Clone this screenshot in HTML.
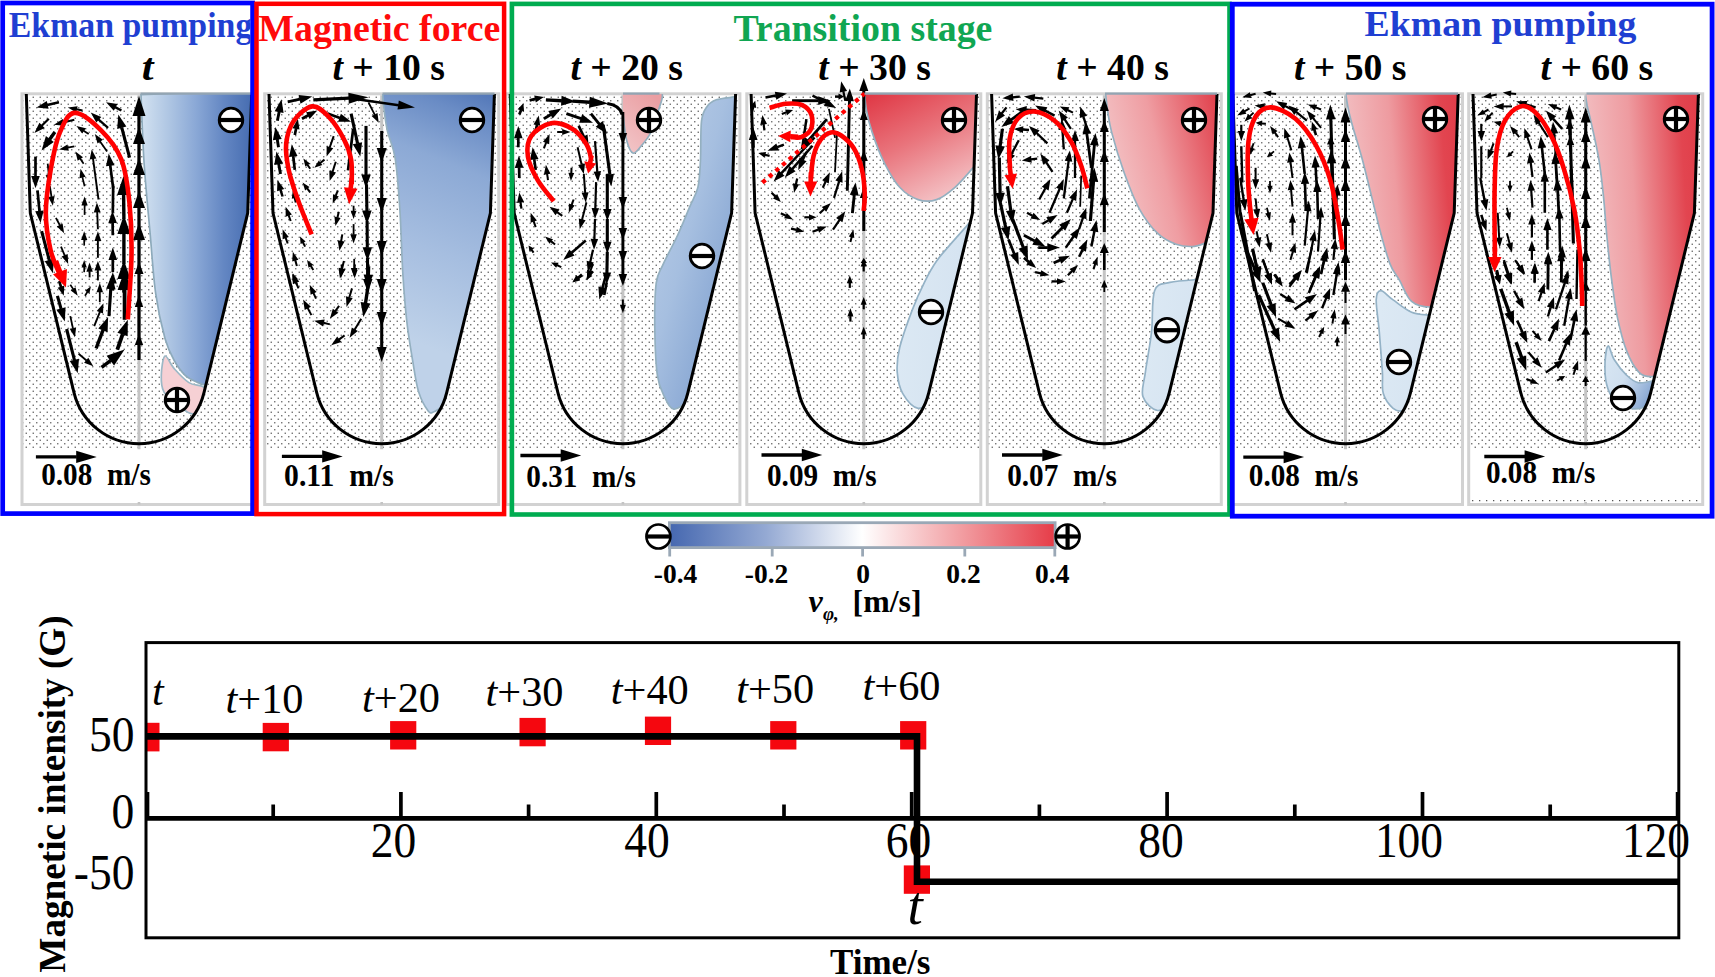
<!DOCTYPE html>
<html><head><meta charset="utf-8"><title>Flow patterns under magnetic field</title>
<style>
html,body{margin:0;padding:0;background:#fff;}
body{width:1715px;height:977px;overflow:hidden;font-family:"Liberation Serif",serif;}
svg{display:block}
text{font-family:"Liberation Serif",serif;}
.b{font-weight:bold}
.i{font-style:italic}
</style></head><body>
<svg width="1715" height="977" viewBox="0 0 1715 977">
<defs>
<pattern id="dots" width="7" height="7" patternUnits="userSpaceOnUse" x="1" y="2">
<rect x="0.2" y="0.2" width="1.15" height="1.15" fill="#2e2e2e"/><rect x="3.65" y="3.65" width="1.15" height="1.15" fill="#2e2e2e"/>
</pattern>
<linearGradient id="gb1" gradientUnits="userSpaceOnUse" x1="141" y1="0" x2="251" y2="0"><stop offset="0" stop-color="#d3e2f1"/><stop offset="0.25" stop-color="#afc6e3"/><stop offset="0.5" stop-color="#8aa8d6"/><stop offset="0.75" stop-color="#6487c3"/><stop offset="1" stop-color="#476db1"/></linearGradient>
<linearGradient id="gb2" gradientUnits="userSpaceOnUse" x1="398" y1="335" x2="496" y2="92"><stop offset="0" stop-color="#bfd2e9"/><stop offset="0.35" stop-color="#a6bee0"/><stop offset="0.68" stop-color="#8ca9d5"/><stop offset="0.88" stop-color="#6a8cc5"/><stop offset="1" stop-color="#4f74b6"/></linearGradient>
<linearGradient id="gb3" x1="0.1" y1="0" x2="0.9" y2="0.75"><stop offset="0" stop-color="#b9cde7"/><stop offset="0.45" stop-color="#a6bfe0"/><stop offset="1" stop-color="#7c9dce"/></linearGradient>
<linearGradient id="gr4" x1="0.15" y1="0" x2="0.7" y2="1"><stop offset="0" stop-color="#e03a47"/><stop offset="0.45" stop-color="#e9747c"/><stop offset="1" stop-color="#f5c9cc"/></linearGradient>
<linearGradient id="gr5" x1="0" y1="0.6" x2="1" y2="0.3"><stop offset="0" stop-color="#f4c9cb"/><stop offset="0.45" stop-color="#ef9da2"/><stop offset="1" stop-color="#e03c48"/></linearGradient>
<linearGradient id="gr6" x1="0" y1="0.5" x2="1" y2="0.35"><stop offset="0" stop-color="#f3c2c5"/><stop offset="0.4" stop-color="#ee9ba0"/><stop offset="0.8" stop-color="#e24550"/><stop offset="1" stop-color="#df3a46"/></linearGradient>
<linearGradient id="gr3" x1="0" y1="1" x2="0.6" y2="0"><stop offset="0" stop-color="#f3c9cb"/><stop offset="1" stop-color="#ea9ea2"/></linearGradient>
<linearGradient id="glb" x1="0" y1="0.4" x2="1" y2="0.6"><stop offset="0" stop-color="#dce9f4"/><stop offset="0.6" stop-color="#d6e4f1"/><stop offset="1" stop-color="#a9c3e0"/></linearGradient>
<linearGradient id="glb7" x1="0" y1="0" x2="1" y2="0.6"><stop offset="0" stop-color="#d9e7f3"/><stop offset="0.5" stop-color="#cfdfef"/><stop offset="1" stop-color="#86a6d2"/></linearGradient>
<linearGradient id="cbar" x1="0" y1="0" x2="1" y2="0"><stop offset="0" stop-color="#4668b0"/><stop offset="0.25" stop-color="#94a9d3"/><stop offset="0.5" stop-color="#ffffff"/><stop offset="0.75" stop-color="#f2a0a4"/><stop offset="1" stop-color="#e63c48"/></linearGradient>
<clipPath id="cr1"><path d="M139 94L251.7 94L247.7 213L204 392.6A66.9 66.9 0 0 1 139 443.5Z"/></clipPath><clipPath id="cr2"><path d="M381.7 94L494.4 94L490.4 213L446.7 392.6A66.9 66.9 0 0 1 381.7 443.5Z"/></clipPath><clipPath id="cr3"><path d="M622.9 94L735.6 94L731.6 213L687.9 392.6A66.9 66.9 0 0 1 622.9 443.5Z"/></clipPath><clipPath id="cr4"><path d="M863.8 94L976.5 94L972.5 213L928.8 392.6A66.9 66.9 0 0 1 863.8 443.5Z"/></clipPath><clipPath id="cr5"><path d="M1104.3 94L1217 94L1213 213L1169.3 392.6A66.9 66.9 0 0 1 1104.3 443.5Z"/></clipPath><clipPath id="cr6"><path d="M1345.5 94L1458.2 94L1454.2 213L1410.5 392.6A66.9 66.9 0 0 1 1345.5 443.5Z"/></clipPath><clipPath id="cr7"><path d="M1585.7 94L1698.4 94L1694.4 213L1650.7 392.6A66.9 66.9 0 0 1 1585.7 443.5Z"/></clipPath></defs>
<rect x="22" y="93.8" width="234" height="410.7" fill="#fff" stroke="#d2d2d2" stroke-width="3"/><rect x="23.5" y="95.5" width="231" height="354" fill="url(#dots)"/><path d="M139 95.3V449.2" stroke="#c4c4c4" stroke-width="3"/><path d="M139 502V504.5" stroke="#c4c4c4" stroke-width="2.6"/><rect x="264.7" y="93.8" width="234" height="410.7" fill="#fff" stroke="#d2d2d2" stroke-width="3"/><rect x="266.2" y="95.5" width="231" height="354" fill="url(#dots)"/><path d="M381.7 95.3V449.2" stroke="#c4c4c4" stroke-width="3"/><path d="M381.7 502V504.5" stroke="#c4c4c4" stroke-width="2.6"/><rect x="505.9" y="93.8" width="234" height="410.7" fill="#fff" stroke="#d2d2d2" stroke-width="3"/><rect x="507.4" y="95.5" width="231" height="354" fill="url(#dots)"/><path d="M622.9 95.3V449.2" stroke="#c4c4c4" stroke-width="3"/><path d="M622.9 502V504.5" stroke="#c4c4c4" stroke-width="2.6"/><rect x="746.8" y="93.8" width="234" height="410.7" fill="#fff" stroke="#d2d2d2" stroke-width="3"/><rect x="748.3" y="95.5" width="231" height="354" fill="url(#dots)"/><path d="M863.8 95.3V449.2" stroke="#c4c4c4" stroke-width="3"/><path d="M863.8 502V504.5" stroke="#c4c4c4" stroke-width="2.6"/><rect x="987.3" y="93.8" width="234" height="410.7" fill="#fff" stroke="#d2d2d2" stroke-width="3"/><rect x="988.8" y="95.5" width="231" height="354" fill="url(#dots)"/><path d="M1104.3 95.3V449.2" stroke="#c4c4c4" stroke-width="3"/><path d="M1104.3 502V504.5" stroke="#c4c4c4" stroke-width="2.6"/><rect x="1228.5" y="93.8" width="234" height="410.7" fill="#fff" stroke="#d2d2d2" stroke-width="3"/><rect x="1230" y="95.5" width="231" height="354" fill="url(#dots)"/><path d="M1345.5 95.3V449.2" stroke="#c4c4c4" stroke-width="3"/><path d="M1345.5 502V504.5" stroke="#c4c4c4" stroke-width="2.6"/><rect x="1468.7" y="93.8" width="234" height="410.7" fill="#fff" stroke="#d2d2d2" stroke-width="3"/><rect x="1470.2" y="95.5" width="231" height="354" fill="url(#dots)"/><path d="M1585.7 95.3V449.2" stroke="#c4c4c4" stroke-width="3"/><path d="M1585.7 502V504.5" stroke="#c4c4c4" stroke-width="2.6"/>
<path d="M1472 500.6H1698" stroke="#555" stroke-width="1.2" stroke-dasharray="1.3 5.7"/><path d="M165 356.1C162.8 357.2 161.5 369.3 161.3 375.3C161.1 381.2 161.1 386.9 163.9 391.8C166.6 396.7 172.8 401 177.9 404.7C183 408.4 188.3 415.1 194.4 413.9C200.6 412.7 213.2 401.8 214.7 397.3C216.2 392.9 208 389.5 203.7 387C199.4 384.6 193.8 385.7 188.9 382.6C184 379.5 178.2 373 174.2 368.6C170.2 364.2 167.1 355 165 356.1Z" fill="#f6d0d4" stroke="#9cb8c6" stroke-width="1.7" clip-path="url(#cr1)"/><path d="M141 94.6C141.5 105.8 142.5 138.2 144 161.7C145.5 185.1 148.3 213.2 150.3 235.3C152.2 257.4 153.3 277 155.8 294.2C158.2 311.4 161.9 327.4 165 338.4C168.1 349.5 170.8 354.4 174.2 360.5C177.6 366.7 181.3 371.6 185.2 375.3C189.2 378.9 194.1 380.8 198.1 382.6C202.1 384.5 207.3 385.7 209.2 386.3L264 380L264 90Z" fill="url(#gb1)" stroke="#8daabb" stroke-width="1.7" clip-path="url(#cr1)"/><path d="M26.3 94L30.3 213L74 392.6A66.9 66.9 0 0 0 204 392.6L247.7 213L251.7 94" fill="none" stroke="#000" stroke-width="3"/><path d="M139 360V106.2" stroke="#000" stroke-width="3.2"/><path d="M139 96L132.5 116L145.5 116Z" fill="#000"/><path d="M139 127L133 144L145 144Z" fill="#000"/><path d="M139 158L133 175L145 175Z" fill="#000"/><path d="M139 191L133 208L145 208Z" fill="#000"/><path d="M139 223L133 240L145 240Z" fill="#000"/><path d="M139 262L134.5 274L143.5 274Z" fill="#000"/><path d="M139 295L134.8 307L143.2 307Z" fill="#000"/><path d="M139 334L134.8 345L143.2 345Z" fill="#000"/><path d="M59 102.3L47.2 105" stroke="#000" stroke-width="2.5" fill="none"/><path d="M36.5 107.4L46.8 101L48.6 108.8Z" fill="#000"/><path d="M48.8 118.7L41.7 125.8" stroke="#000" stroke-width="2.2" fill="none"/><path d="M34.4 133L39.4 122.7L44.7 128.1Z" fill="#000"/><path d="M54.9 132L49.6 139.4" stroke="#000" stroke-width="3.4" fill="none"/><path d="M41.6 150.4L45.9 136.1L53.8 141.9Z" fill="#000"/><path d="M74.3 146.3L67.7 147.7" stroke="#000" stroke-width="1.8" fill="none"/><path d="M59 149.4L67.5 144.4L68.8 150.8Z" fill="#000"/><path d="M74.3 119.7L63.1 122.5" stroke="#000" stroke-width="2" fill="none"/><path d="M53.9 124.8L62.8 119L64.5 125.8Z" fill="#000"/><path d="M82.5 110.5L76.4 109.3" stroke="#000" stroke-width="2" fill="none"/><path d="M67.8 107.6L77.6 106.2L76.3 112.6Z" fill="#000"/><path d="M88.7 134L83.6 130.7" stroke="#000" stroke-width="1.8" fill="none"/><path d="M76.4 125.9L85.8 128.3L82.2 133.6Z" fill="#000"/><path d="M121.4 110.5L115.1 107.2" stroke="#000" stroke-width="2.5" fill="none"/><path d="M106.1 102.3L117.4 104.1L113.8 110.7Z" fill="#000"/><path d="M108.1 127.9L98.4 119.4" stroke="#000" stroke-width="2.2" fill="none"/><path d="M90.7 112.6L101.3 116.9L96.3 122.5Z" fill="#000"/><path d="M107.1 151.4L99.9 141.3" stroke="#000" stroke-width="1.8" fill="none"/><path d="M94.8 134L102.9 139.8L97.5 143.6Z" fill="#000"/><path d="M35.5 156.6L35.5 176.5" stroke="#000" stroke-width="2.7" fill="none"/><path d="M35.5 188.3L31.2 176L39.8 176Z" fill="#000"/><path d="M37.5 190.3L39.5 211.3" stroke="#000" stroke-width="2.7" fill="none"/><path d="M40.6 223.1L35.2 211.2L43.7 210.4Z" fill="#000"/><path d="M49.8 186.2L51.5 196.9" stroke="#000" stroke-width="1.8" fill="none"/><path d="M52.9 205.7L48.2 197L54.6 195.9Z" fill="#000"/><path d="M55.9 217.9L60 225.5" stroke="#000" stroke-width="1.8" fill="none"/><path d="M64.1 233.3L56.8 226.6L62.6 223.5Z" fill="#000"/><path d="M61 246.6L64.8 255.8" stroke="#000" stroke-width="1.8" fill="none"/><path d="M68.2 264L61.6 256.6L67.7 254.1Z" fill="#000"/><path d="M41.6 231.2L49.4 260.5" stroke="#000" stroke-width="3.1" fill="none"/><path d="M52.9 273.2L44.7 261.2L53.9 258.8Z" fill="#000"/><path d="M47.7 163.7L48.9 175.4" stroke="#000" stroke-width="1.8" fill="none"/><path d="M49.8 184.2L45.6 175.2L52.1 174.6Z" fill="#000"/><path d="M83.6 163.7L80.1 158.5" stroke="#000" stroke-width="1.7" fill="none"/><path d="M75.4 151.4L83 157.2L77.7 160.7Z" fill="#000"/><path d="M84.6 186.2L82.4 177.1" stroke="#000" stroke-width="1.7" fill="none"/><path d="M80.5 168.8L85.6 176.8L79.5 178.3Z" fill="#000"/><path d="M84.6 214.9L84.6 204.9" stroke="#000" stroke-width="1.7" fill="none"/><path d="M84.6 196.5L87.7 205.4L81.4 205.4Z" fill="#000"/><path d="M84.2 245.6L84.2 239.6" stroke="#000" stroke-width="1.7" fill="none"/><path d="M84.2 231.2L87.3 240.1L81.1 240.1Z" fill="#000"/><path d="M84.2 272.2L84.2 267" stroke="#000" stroke-width="1.7" fill="none"/><path d="M84.2 259.9L86.8 267.5L81.5 267.5Z" fill="#000"/><path d="M98.5 199.5L93 158.5" stroke="#000" stroke-width="1.9" fill="none"/><path d="M91.7 149.4L96.4 158.5L89.7 159.5Z" fill="#000"/><path d="M97.9 229.2L97.2 211.8" stroke="#000" stroke-width="1.9" fill="none"/><path d="M96.9 202.6L100.6 212.2L93.8 212.4Z" fill="#000"/><path d="M97.9 257.8L97.9 240.4" stroke="#000" stroke-width="1.9" fill="none"/><path d="M97.9 231.2L101.3 240.9L94.5 240.9Z" fill="#000"/><path d="M97.9 280.4L97.9 270.1" stroke="#000" stroke-width="1.9" fill="none"/><path d="M97.9 260.9L101.3 270.6L94.5 270.6Z" fill="#000"/><path d="M113.2 188.3L110.2 165.2" stroke="#000" stroke-width="2.7" fill="none"/><path d="M108.7 153.5L114.6 165.2L106 166.3Z" fill="#000"/><path d="M112.8 235.3L112.6 222.6" stroke="#000" stroke-width="2.7" fill="none"/><path d="M112.4 210.8L116.9 223L108.3 223.2Z" fill="#000"/><path d="M112.8 272.2L112.8 259.4" stroke="#000" stroke-width="2.7" fill="none"/><path d="M112.8 247.6L117.1 259.9L108.5 259.9Z" fill="#000"/><path d="M112.8 290.6L112.8 283.1" stroke="#000" stroke-width="2.7" fill="none"/><path d="M112.8 272.2L116.8 283.6L108.8 283.6Z" fill="#000"/><path d="M112.8 212.8L113.2 185.8" stroke="#000" stroke-width="2.7" fill="none"/><path d="M113.2 186.2L113.3 186.3L113.2 186.3Z" fill="#000"/><path d="M129.6 157.6L121.7 127.3" stroke="#000" stroke-width="3.1" fill="none"/><path d="M118.3 114.6L126.4 126.6L117.2 129Z" fill="#000"/><path d="M123.9 219L123.6 194.5" stroke="#000" stroke-width="3.4" fill="none"/><path d="M123.5 176L130.1 194.9L117.1 195.1Z" fill="#000"/><path d="M123.9 264L123.9 233.4" stroke="#000" stroke-width="3.4" fill="none"/><path d="M123.9 214.9L130.4 233.9L117.4 233.9Z" fill="#000"/><path d="M123.9 292.6L123.9 278.4" stroke="#000" stroke-width="3.4" fill="none"/><path d="M123.9 259.9L130.4 278.9L117.4 278.9Z" fill="#000"/><path d="M57.4 295.8L61.1 308.9" stroke="#000" stroke-width="3.1" fill="none"/><path d="M64.8 321.6L56.4 309.8L65.6 307.2Z" fill="#000"/><path d="M66.6 329L74.5 360.4" stroke="#000" stroke-width="3.1" fill="none"/><path d="M77.7 373.2L69.7 361.1L79 358.8Z" fill="#000"/><path d="M59.2 281.1L61.1 287.1" stroke="#000" stroke-width="2.7" fill="none"/><path d="M63.8 295.8L57.7 287.7L64.3 285.6Z" fill="#000"/><path d="M70.3 316.1L73 328.6" stroke="#000" stroke-width="1.8" fill="none"/><path d="M74.9 337.3L69.7 328.8L76.1 327.4Z" fill="#000"/><path d="M78.6 353.8L86.5 360.5" stroke="#000" stroke-width="1.8" fill="none"/><path d="M93.3 366.2L84.1 362.7L88.3 357.7Z" fill="#000"/><path d="M70.3 284.7L73.4 289.4" stroke="#000" stroke-width="1.7" fill="none"/><path d="M77.7 295.8L70.7 290.5L75.5 287.3Z" fill="#000"/><path d="M85 295.8L87.5 291.7" stroke="#000" stroke-width="1.7" fill="none"/><path d="M90.9 286.2L89.4 293.5L85.1 290.8Z" fill="#000"/><path d="M99.8 302.2L99.8 291.7" stroke="#000" stroke-width="1.8" fill="none"/><path d="M99.8 282.9L103 292.2L96.5 292.2Z" fill="#000"/><path d="M94.2 326.2L100 311.7" stroke="#000" stroke-width="1.9" fill="none"/><path d="M103.5 303.2L103 313.4L96.7 310.9Z" fill="#000"/><path d="M96.1 348.3L103.1 329.9" stroke="#000" stroke-width="3.4" fill="none"/><path d="M108.1 317L107.6 332.2L98.3 328.6Z" fill="#000"/><path d="M109 316.1L110.8 288.7" stroke="#000" stroke-width="3.1" fill="none"/><path d="M111.7 275.5L115.6 289.5L106.1 288.8Z" fill="#000"/><path d="M101.6 367.3L110.8 360.3" stroke="#000" stroke-width="3.4" fill="none"/><path d="M124.6 349.6L114.1 365.5L106.6 355.7Z" fill="#000"/><path d="M117.3 349.6L122.7 334.1" stroke="#000" stroke-width="3.8" fill="none"/><path d="M127.8 319.8L127.7 336.3L117.4 332.7Z" fill="#000"/><path d="M124.6 319.8L124.6 289.5" stroke="#000" stroke-width="3.8" fill="none"/><path d="M124.6 270L131.6 290L117.6 290Z" fill="#000"/><path d="M89.6 277.4L89.6 271.3" stroke="#000" stroke-width="1.9" fill="none"/><path d="M89.6 262.6L92.8 271.8L86.4 271.8Z" fill="#000"/><path d="M127.8 319.4C128.4 308.8 131.2 275.1 131.5 255.5C131.8 236 131 218.3 129.4 202.3C127.7 186.3 126.1 171.7 121.4 159.7C116.7 147.7 109 138.2 101.1 130.4C93.3 122.6 81.5 112.4 74.5 112.9C67.6 113.3 63.6 123.5 59.6 133.1C55.6 142.7 52.9 157 50.6 170.4C48.3 183.7 45.8 199.6 45.8 212.9C45.8 226.3 48.3 240 50.6 250.2C52.9 260.4 58.1 270.2 59.6 274.2" fill="none" stroke="#ff0000" stroke-width="4.6" stroke-linecap="butt"/><path d="M55.9 260.9L60.2 272" stroke="#ff0000" stroke-width="4.6" fill="none"/><path d="M66 287.5L53 274.2L67 268.9Z" fill="#ff0000"/><circle cx="231" cy="120" r="11.8" fill="#fff" stroke="#000" stroke-width="2.8"/><path d="M219.2 120H242.8" stroke="#000" stroke-width="4.2"/><circle cx="177" cy="400" r="11.8" fill="#fff" stroke="#000" stroke-width="2.8"/><path d="M165.2 400H188.8" stroke="#000" stroke-width="4.2"/><path d="M177 388.2V411.8" stroke="#000" stroke-width="4.2"/><path d="M382.5 92C382.7 94.2 382.7 98.6 383.5 105C384.3 111.4 385.4 121.8 387.3 130.6C389.2 139.4 393 144.9 395.1 157.9C397.2 170.9 398.5 189.1 399.8 208.5C401.1 227.9 401.7 255.8 402.9 274.6C404.1 293.4 405.2 307 406.8 321.3C408.4 335.6 410.7 348.6 412.6 360.3C414.6 372 415.9 383 418.5 391.4C421.1 399.8 425.6 407.5 428.2 410.9C430.8 414.3 431.2 412.7 434 411.7C436.8 410.7 443.2 406.1 445 405L506.7 400L506.7 90Z" fill="url(#gb2)" stroke="#94b0c0" stroke-width="1.7" clip-path="url(#cr2)"/><path d="M269 94L273 213L316.7 392.6A66.9 66.9 0 0 0 446.7 392.6L490.4 213L494.4 94" fill="none" stroke="#000" stroke-width="3"/><path d="M287.7 101.9L300 99.2" stroke="#000" stroke-width="2.9" fill="none"/><path d="M312.2 96.6L300.5 103.8L298.6 94.9Z" fill="#000"/><path d="M313.3 99.9L349 98.1" stroke="#000" stroke-width="3.1" fill="none"/><path d="M368.5 97.2L348.8 103.7L348.3 92.7Z" fill="#000"/><path d="M368.5 102.3L374.8 114.9" stroke="#000" stroke-width="1.8" fill="none"/><path d="M378.7 122.8L371.6 115.9L377.5 113Z" fill="#000"/><path d="M327.6 113.6L339.9 117.9" stroke="#000" stroke-width="2.7" fill="none"/><path d="M351.1 121.8L338.1 121.8L340.9 113.7Z" fill="#000"/><path d="M302 118.7L308.3 115.3" stroke="#000" stroke-width="2.9" fill="none"/><path d="M317.3 110.5L309.6 118.9L306.1 112.3Z" fill="#000"/><path d="M277.4 120.7L279.2 111.5" stroke="#000" stroke-width="2.9" fill="none"/><path d="M281.5 99.3L283.6 112.9L274.7 111.2Z" fill="#000"/><path d="M278.5 147.3L277.2 139.1" stroke="#000" stroke-width="2.9" fill="none"/><path d="M275.4 126.9L281.7 138.9L272.9 140.2Z" fill="#000"/><path d="M280.5 173.9L278.7 163.7" stroke="#000" stroke-width="2.9" fill="none"/><path d="M276.4 151.4L283.2 163.4L274.3 165Z" fill="#000"/><path d="M282.6 196.5L280.5 189.8" stroke="#000" stroke-width="2.5" fill="none"/><path d="M277.4 180.1L284.2 189.1L277.1 191.3Z" fill="#000"/><path d="M290.7 221L288.6 215.1" stroke="#000" stroke-width="2" fill="none"/><path d="M285.6 206.7L291.9 214.5L285.7 216.7Z" fill="#000"/><path d="M287.7 243.5L285.6 237.6" stroke="#000" stroke-width="2" fill="none"/><path d="M282.6 229.2L288.8 237L282.6 239.2Z" fill="#000"/><path d="M294.8 135.1L296.1 128.4" stroke="#000" stroke-width="2.7" fill="none"/><path d="M297.9 118.7L299.5 129.5L292.5 128.2Z" fill="#000"/><path d="M294.8 169.9L293.2 156" stroke="#000" stroke-width="2.7" fill="none"/><path d="M291.8 144.3L297.5 156L289 157Z" fill="#000"/><path d="M295.9 202.6L294.6 197.4" stroke="#000" stroke-width="2.2" fill="none"/><path d="M292.8 190.3L297.6 197.2L291.8 198.7Z" fill="#000"/><path d="M305.1 246.6L302.9 242.3" stroke="#000" stroke-width="2" fill="none"/><path d="M300 236.4L305.6 241.4L300.6 244Z" fill="#000"/><path d="M296.9 266L295.2 260.1" stroke="#000" stroke-width="2" fill="none"/><path d="M292.8 251.7L298.4 259.7L292.2 261.5Z" fill="#000"/><path d="M313.3 270.1L310.7 265.8" stroke="#000" stroke-width="2" fill="none"/><path d="M307.1 259.9L313.3 264.8L308.5 267.7Z" fill="#000"/><path d="M296.9 284.5L295.2 279.7" stroke="#000" stroke-width="2" fill="none"/><path d="M292.8 273.2L298 279.2L292.7 281.1Z" fill="#000"/><path d="M310.2 168.8L307.3 164.5" stroke="#000" stroke-width="2" fill="none"/><path d="M303.4 158.6L310 163.4L305.3 166.5Z" fill="#000"/><path d="M324.5 159.6L320.2 163" stroke="#000" stroke-width="2" fill="none"/><path d="M314.3 167.8L318.8 160.5L322.4 165Z" fill="#000"/><path d="M310.2 192.4L307 188.2" stroke="#000" stroke-width="2" fill="none"/><path d="M302.6 182.5L309.5 186.9L305.1 190.4Z" fill="#000"/><path d="M333.7 136.1L329.7 147.5" stroke="#000" stroke-width="2" fill="none"/><path d="M326.6 156.6L326.6 145.9L333.2 148.2Z" fill="#000"/><path d="M335.8 161.7L332.5 172" stroke="#000" stroke-width="2" fill="none"/><path d="M329.6 181.1L329.3 170.5L336 172.6Z" fill="#000"/><path d="M337.8 190.3L335.7 195.8" stroke="#000" stroke-width="2" fill="none"/><path d="M332.7 203.6L333 194.3L338.8 196.5Z" fill="#000"/><path d="M338.8 211.8L337.4 217.7" stroke="#000" stroke-width="2" fill="none"/><path d="M335.4 226.1L334.4 216.5L340.6 218Z" fill="#000"/><path d="M342.3 234.3L341.1 241.3" stroke="#000" stroke-width="2" fill="none"/><path d="M339.4 250.7L337.7 240.2L344.6 241.4Z" fill="#000"/><path d="M343.9 260.9L342 269" stroke="#000" stroke-width="2" fill="none"/><path d="M339.9 278.3L338.7 267.7L345.6 269.3Z" fill="#000"/><path d="M351.1 113.6L357.6 143.7" stroke="#000" stroke-width="3.1" fill="none"/><path d="M360.3 156.6L352.8 144.2L362.1 142.2Z" fill="#000"/><path d="M353.2 128.9L348 170.3" stroke="#000" stroke-width="2.7" fill="none"/><path d="M348 169.9L348 169.7L348.1 169.8Z" fill="#000"/><path d="M353.6 205.7L353.6 211.2" stroke="#000" stroke-width="1.8" fill="none"/><path d="M353.6 219L350.7 210.7L356.5 210.7Z" fill="#000"/><path d="M353.6 224.1L353.6 234.7" stroke="#000" stroke-width="1.8" fill="none"/><path d="M353.6 243.5L350.3 234.2L356.8 234.2Z" fill="#000"/><path d="M354.2 258.9L354.2 268.5" stroke="#000" stroke-width="1.8" fill="none"/><path d="M354.2 277.3L350.9 268L357.5 268Z" fill="#000"/><path d="M366 125.9L366 175.1" stroke="#000" stroke-width="3.1" fill="none"/><path d="M366 188.3L361.3 174.6L370.8 174.6Z" fill="#000"/><path d="M366.5 184.2L366.9 210.9" stroke="#000" stroke-width="3.1" fill="none"/><path d="M367.1 224.1L362.1 210.5L371.6 210.4Z" fill="#000"/><path d="M367.1 221L367.3 247.8" stroke="#000" stroke-width="3.1" fill="none"/><path d="M367.5 260.9L362.6 247.3L372.1 247.2Z" fill="#000"/><path d="M367.5 257.8L367.7 279.5" stroke="#000" stroke-width="3.1" fill="none"/><path d="M367.9 292.6L363 279L372.5 278.9Z" fill="#000"/><path d="M350.1 98.2L398.7 105.2" stroke="#000" stroke-width="2.6" fill="none"/><path d="M415 107.5L397.5 109.6L398.8 100.6Z" fill="#000"/><path d="M298.5 288.4L295.9 282.4" stroke="#000" stroke-width="2" fill="none"/><path d="M292.1 273.7L299.3 281.4L292.9 284.2Z" fill="#000"/><path d="M316 298.6L313.4 292.9" stroke="#000" stroke-width="2" fill="none"/><path d="M309.6 284.7L316.6 291.9L310.6 294.7Z" fill="#000"/><path d="M311.4 315.1L307.6 307.9" stroke="#000" stroke-width="2" fill="none"/><path d="M303.1 299.5L311 306.7L304.7 310Z" fill="#000"/><path d="M329.9 324.4L323.4 322.8" stroke="#000" stroke-width="2" fill="none"/><path d="M314.2 320.7L324.7 319.6L323.1 326.4Z" fill="#000"/><path d="M339.1 305.9L335.3 311.2" stroke="#000" stroke-width="2" fill="none"/><path d="M329.9 318.8L332.8 308.8L338.4 312.8Z" fill="#000"/><path d="M352 288.4L349.2 297.7" stroke="#000" stroke-width="2" fill="none"/><path d="M346.5 306.9L346 296.2L352.7 298.2Z" fill="#000"/><path d="M341.8 264.5L341.5 270.2" stroke="#000" stroke-width="2" fill="none"/><path d="M340.9 278.3L338.5 269.5L344.5 269.9Z" fill="#000"/><path d="M354.7 264.5L354.7 270.2" stroke="#000" stroke-width="2" fill="none"/><path d="M354.7 278.3L351.7 269.7L357.7 269.7Z" fill="#000"/><path d="M368.6 266.3L368.3 275.2" stroke="#000" stroke-width="3.4" fill="none"/><path d="M368 288.4L363.6 274.6L373.1 274.8Z" fill="#000"/><path d="M368 286.6L365.5 303.3" stroke="#000" stroke-width="3.4" fill="none"/><path d="M363.4 317L360.6 302.1L370.5 303.6Z" fill="#000"/><path d="M361.2 318.8L354.6 329.7" stroke="#000" stroke-width="2" fill="none"/><path d="M349.6 337.8L351.8 327.4L357.8 331.1Z" fill="#000"/><path d="M344.6 335.4L338.9 339.6" stroke="#000" stroke-width="2" fill="none"/><path d="M331.2 345.2L337.2 336.4L341.4 342.1Z" fill="#000"/><path d="M381.7 131V353" stroke="#000" stroke-width="3"/><path d="M381.7 163L376.7 148L386.7 148Z" fill="#000"/><path d="M381.7 213L376.7 198L386.7 198Z" fill="#000"/><path d="M381.7 256L376.7 241L386.7 241Z" fill="#000"/><path d="M381.7 294L376.7 279L386.7 279Z" fill="#000"/><path d="M381.7 327L376.7 312L386.7 312Z" fill="#000"/><path d="M381.7 362L376.7 347L386.7 347Z" fill="#000"/><path d="M311.6 234.3C309.5 229 302.7 213.3 298.9 202.6C295.1 191.9 290.8 179.7 288.7 169.9C286.6 160 285.4 151.4 286.2 143.3C287.1 135.1 289.5 126.9 293.8 120.7C298.1 114.6 306.4 107.1 312.2 106.4C318 105.7 323.3 111.2 328.6 116.6C333.9 122.1 340.2 132 343.9 139.2C347.7 146.3 349.8 152.1 351.1 159.6C352.4 167.1 351.6 180.1 351.7 184.2" fill="none" stroke="#ff0000" stroke-width="4.6" stroke-linecap="butt"/><path d="M351.7 178L350.7 188.5" stroke="#ff0000" stroke-width="4.6" fill="none"/><path d="M349.1 204.2L343.9 187.3L357.5 188.7Z" fill="#ff0000"/><circle cx="472" cy="120" r="11.8" fill="#fff" stroke="#000" stroke-width="2.8"/><path d="M460.2 120H483.8" stroke="#000" stroke-width="4.2"/><path d="M622.1 90.5C628.2 86 654.2 86.5 660.1 90.5C666 94.4 658.8 107.3 657.2 114.4C655.6 121.5 653 127.9 650.5 133C648 138.1 644.9 141.6 642 145C639.1 148.4 635.8 153.9 633.2 153.2C630.7 152.6 628.5 147 626.8 141C625.2 135 624.2 125.5 623.4 117.1C622.6 108.6 615.9 94.9 622.1 90.5Z" fill="url(#gr3)" stroke="#94b0c0" stroke-width="1.7" clip-path="url(#cr3)"/><path d="M732.1 97.2C729.5 97.6 720.4 98.3 716.3 99.8C712.1 101.3 709.5 102.9 707.1 106.4C704.6 110 702.6 111.9 701.5 121.1C700.4 130.4 701.1 150.6 700.4 161.7C699.8 172.7 699.6 179.9 697.9 187.4C696.1 194.9 693.1 198.6 689.8 206.6C686.4 214.6 682.1 225.6 677.6 235.3C673.1 245 666.4 256.8 662.9 264.8C659.3 272.7 657.6 272.7 656.2 283.2C654.9 293.6 654.6 312 654.8 327.4C655 342.7 655.7 363.6 657.4 375.3C659 386.9 662 391.7 664.7 397.3C667.5 403 669.9 408.5 673.9 409.1C677.9 409.7 686.2 402.4 688.7 401L747.9 400L747.9 95Z" fill="url(#gb3)" stroke="#94b0c0" stroke-width="1.7" clip-path="url(#cr3)"/><path d="M510.2 94L514.2 213L557.9 392.6A66.9 66.9 0 0 0 687.9 392.6L731.6 213L735.6 94" fill="none" stroke="#000" stroke-width="3"/><path d="M529.6 100.3L535.5 98.9" stroke="#000" stroke-width="2.9" fill="none"/><path d="M543.9 97L535.8 102.6L534.2 95.5Z" fill="#000"/><path d="M545.9 99.9L561.8 100.7" stroke="#000" stroke-width="3.4" fill="none"/><path d="M575.6 101.5L561 105.7L561.6 95.7Z" fill="#000"/><path d="M572.5 101.1L589.9 102.3" stroke="#000" stroke-width="3.4" fill="none"/><path d="M608.3 103.6L589 107.7L589.8 96.8Z" fill="#000"/><path d="M519.3 114.6L521.1 109.9" stroke="#000" stroke-width="2.7" fill="none"/><path d="M523.4 103.3L524.1 111.5L517.6 109.2Z" fill="#000"/><path d="M518.3 147.3L518.3 137.7" stroke="#000" stroke-width="2.7" fill="none"/><path d="M518.3 125.9L522.6 138.2L514 138.2Z" fill="#000"/><path d="M519.3 178L519.1 167.3" stroke="#000" stroke-width="2.7" fill="none"/><path d="M518.9 155.5L523.4 167.8L514.8 167.9Z" fill="#000"/><path d="M521.4 208.7L520.5 202" stroke="#000" stroke-width="2.2" fill="none"/><path d="M519.3 192.4L524.1 202.1L517 203Z" fill="#000"/><path d="M535.7 227.2L533.6 221.2" stroke="#000" stroke-width="2" fill="none"/><path d="M530.6 212.8L536.9 220.6L530.6 222.8Z" fill="#000"/><path d="M533.6 252.7L531.4 249.6" stroke="#000" stroke-width="2" fill="none"/><path d="M528.5 245.6L534 248.4L529.4 251.6Z" fill="#000"/><path d="M535.7 131L537 124.7" stroke="#000" stroke-width="2.7" fill="none"/><path d="M538.8 115.6L540.2 125.8L533.5 124.5Z" fill="#000"/><path d="M543.9 118.7L550.9 114.6" stroke="#000" stroke-width="2.9" fill="none"/><path d="M561.3 108.5L552.7 118.6L548.3 111Z" fill="#000"/><path d="M566.4 113.6L581.2 118.7" stroke="#000" stroke-width="2.9" fill="none"/><path d="M593 122.8L579.2 122.8L582.2 114.3Z" fill="#000"/><path d="M590.9 113.6L599.5 124.3" stroke="#000" stroke-width="2.9" fill="none"/><path d="M607.3 134L595.7 126.7L602.7 121.1Z" fill="#000"/><path d="M557.2 132L562.7 132" stroke="#000" stroke-width="2" fill="none"/><path d="M570.5 132L562.2 134.9L562.2 129.1Z" fill="#000"/><path d="M543.9 148.4L546.2 142.5" stroke="#000" stroke-width="2" fill="none"/><path d="M549.6 134L549.2 144.2L543 141.7Z" fill="#000"/><path d="M535.7 169.9L534.2 159.1" stroke="#000" stroke-width="2.7" fill="none"/><path d="M532.6 147.3L538.5 159L530 160.1Z" fill="#000"/><path d="M548 180.1L547.1 173.8" stroke="#000" stroke-width="2" fill="none"/><path d="M545.9 164.7L550.5 173.8L543.9 174.7Z" fill="#000"/><path d="M571.5 167.8L571.3 173.4" stroke="#000" stroke-width="2" fill="none"/><path d="M570.9 181.1L568.4 172.7L574.2 173Z" fill="#000"/><path d="M577.6 147.3L581.6 164.6" stroke="#000" stroke-width="2" fill="none"/><path d="M583.8 173.9L578.1 164.9L585 163.4Z" fill="#000"/><path d="M578.7 125.9L583.9 136.8" stroke="#000" stroke-width="2.7" fill="none"/><path d="M588.9 147.3L579.8 138.2L587.5 134.5Z" fill="#000"/><path d="M583.8 173.9L585.2 193.1" stroke="#000" stroke-width="2" fill="none"/><path d="M585.8 202.6L581.6 192.8L588.6 192.3Z" fill="#000"/><path d="M586.4 202.6L582 219.9" stroke="#000" stroke-width="2" fill="none"/><path d="M579.7 229.2L578.8 218.6L585.6 220.3Z" fill="#000"/><path d="M573.6 199.5L571.6 205.1" stroke="#000" stroke-width="2" fill="none"/><path d="M568.8 212.8L568.9 203.6L574.7 205.6Z" fill="#000"/><path d="M562.3 215.9L557.1 212.1" stroke="#000" stroke-width="2" fill="none"/><path d="M549.6 206.7L559.5 209.6L555.5 215.2Z" fill="#000"/><path d="M555.1 244.5L550.9 241.1" stroke="#000" stroke-width="2" fill="none"/><path d="M544.9 236.4L553 239.2L549.5 243.7Z" fill="#000"/><path d="M561.3 267.1L556.9 265.1" stroke="#000" stroke-width="2" fill="none"/><path d="M551 262.4L558.6 262.7L556.2 267.8Z" fill="#000"/><path d="M585.8 240.5L571.6 252.7" stroke="#000" stroke-width="2.5" fill="none"/><path d="M563.3 259.9L569.4 249.4L574.6 255.4Z" fill="#000"/><path d="M581.7 274.2L577.9 277.5" stroke="#000" stroke-width="2" fill="none"/><path d="M572.5 282L576.4 275L580.1 279.3Z" fill="#000"/><path d="M595 141.2L597.3 171.9" stroke="#000" stroke-width="2.2" fill="none"/><path d="M598.1 182.1L593.6 171.7L601.1 171.1Z" fill="#000"/><path d="M596.1 182.1L595.3 208.7" stroke="#000" stroke-width="2.2" fill="none"/><path d="M595 219L591.6 208.1L599.1 208.3Z" fill="#000"/><path d="M595 219L594.4 239.4" stroke="#000" stroke-width="2.2" fill="none"/><path d="M594 249.7L590.6 238.8L598.1 239Z" fill="#000"/><path d="M593 249.7L590.2 262.2" stroke="#000" stroke-width="2.2" fill="none"/><path d="M587.9 272.2L586.6 260.8L593.9 262.5Z" fill="#000"/><path d="M593 264L590.2 271.4" stroke="#000" stroke-width="2" fill="none"/><path d="M586.9 280.4L587.1 269.7L593.7 272.2Z" fill="#000"/><path d="M603.2 124.8L609.9 174.8" stroke="#000" stroke-width="3.1" fill="none"/><path d="M611.4 186.2L605.6 174.9L614 173.8Z" fill="#000"/><path d="M607.3 173.9L607.3 209.5" stroke="#000" stroke-width="3.1" fill="none"/><path d="M607.3 221L603.1 209L611.6 209Z" fill="#000"/><path d="M607.3 219L607.3 242.3" stroke="#000" stroke-width="3.1" fill="none"/><path d="M607.3 253.8L603.1 241.8L611.6 241.8Z" fill="#000"/><path d="M607.3 251.7L606.9 273" stroke="#000" stroke-width="3.1" fill="none"/><path d="M606.7 284.5L602.7 272.4L611.2 272.5Z" fill="#000"/><path d="M606.7 282.4L604.2 295.1" stroke="#000" stroke-width="2.7" fill="none"/><path d="M604.2 294.7L604.2 294.6L604.3 294.6Z" fill="#000"/><path d="M607.3 103.6Q620.1 105.6 622.1 114.6" fill="none" stroke="#000" stroke-width="3"/><path d="M582.4 275.5L578.1 278.5" stroke="#000" stroke-width="1.8" fill="none"/><path d="M572.3 282.5L577 276L580.1 280.4Z" fill="#000"/><path d="M592.5 270.9L589.8 274.8" stroke="#000" stroke-width="2" fill="none"/><path d="M586.1 280.1L587.8 272.8L592.4 276Z" fill="#000"/><path d="M606.4 273.7L602.4 288.2" stroke="#000" stroke-width="2.7" fill="none"/><path d="M599.3 299.5L598.4 286.6L606.7 288.8Z" fill="#000"/><path d="M622.9 299.5L622.9 305.2" stroke="#000" stroke-width="1.9" fill="none"/><path d="M622.9 313.3L619.9 304.7L625.9 304.7Z" fill="#000"/><path d="M622.9 112V278.8" stroke="#000" stroke-width="2.8"/><path d="M622.9 145L618.6 133L627.1 133Z" fill="#000"/><path d="M622.9 209L618.6 197L627.1 197Z" fill="#000"/><path d="M622.9 240L618.6 228L627.1 228Z" fill="#000"/><path d="M622.9 263L618.6 251L627.1 251Z" fill="#000"/><path d="M622.9 286L618.6 274L627.1 274Z" fill="#000"/><path d="M553.7 201.2C551 197.7 542 187.5 537.7 180.1C533.4 172.7 529 163.9 527.9 156.6C526.8 149.2 527.3 141.6 531.2 136.1C535 130.5 544.2 124.4 551 123.2C557.9 122 566.6 125.4 572.5 128.9C578.4 132.4 583.4 139.5 586.4 144.3C589.5 149.1 590.2 155.4 590.9 157.6" fill="none" stroke="#ff0000" stroke-width="4.6" stroke-linecap="butt"/><path d="M591.6 155.5L590.1 162.9" stroke="#ff0000" stroke-width="4.6" fill="none"/><path d="M588.1 173.5L584.3 161.2L596.2 163.5Z" fill="#ff0000"/><circle cx="649" cy="120" r="11.8" fill="#fff" stroke="#000" stroke-width="2.8"/><path d="M637.2 120H660.8" stroke="#000" stroke-width="4.2"/><path d="M649 108.2V131.8" stroke="#000" stroke-width="4.2"/><circle cx="702" cy="256" r="11.8" fill="#fff" stroke="#000" stroke-width="2.8"/><path d="M690.2 256H713.8" stroke="#000" stroke-width="4.2"/><path d="M864.4 92.1C864.7 95.2 865.3 103.9 866.5 110.6C867.8 117.2 869.1 123.4 872.1 132.1C875 140.8 879.7 153.6 884.3 162.8C889 172 894.1 181.2 899.7 187.3C905.3 193.5 912 197.6 918.1 199.6C924.3 201.7 930.4 201.7 936.6 199.6C942.7 197.6 948.8 192.7 955 187.3C961.1 182 970.3 170.7 973.4 167.4L988.8 160L988.8 90Z" fill="url(#gr4)" stroke="#94b0c0" stroke-width="1.7" clip-path="url(#cr4)"/><path d="M968.8 223.6C966 226.8 957.3 236.4 951.9 242.6C946.5 248.9 941.2 254.4 936.6 261.1C932 267.7 928.4 274.3 924.3 282.6C920.2 290.8 916.1 299.8 912 310.6C907.9 321.5 902.2 337.3 899.7 347.5C897.2 357.7 896.7 364.4 897.2 372.1C897.8 379.7 899.3 387.5 902.8 393.6C906.3 399.6 912.5 407.3 918.1 408.3C923.8 409.3 933.5 401.1 936.6 399.7L988.8 300Z" fill="url(#glb)" stroke="#94b2c6" stroke-width="1.7" clip-path="url(#cr4)"/><path d="M751.1 94L755.1 213L798.8 392.6A66.9 66.9 0 0 0 928.8 392.6L972.5 213L976.5 94" fill="none" stroke="#000" stroke-width="3"/><path d="M847.3 190.7L849.5 100.7" stroke="#000" stroke-width="2.9" fill="none"/><path d="M849.8 88.4L853.9 101.3L845 101.1Z" fill="#000"/><path d="M845.3 100.7L843.3 91.3" stroke="#000" stroke-width="2.2" fill="none"/><path d="M841.2 81.3L847.1 91L839.7 92.6Z" fill="#000"/><path d="M852.4 213.2L854.3 194.7" stroke="#000" stroke-width="2.9" fill="none"/><path d="M855.5 182.6L858.7 195.7L849.8 194.8Z" fill="#000"/><path d="M850.4 241.9L851.7 236.7" stroke="#000" stroke-width="2" fill="none"/><path d="M853.5 229.6L854.3 237.9L848.8 236.6Z" fill="#000"/><path d="M765.5 97.6L776 95.6" stroke="#000" stroke-width="2.5" fill="none"/><path d="M787 93.5L776.3 99.7L774.8 91.7Z" fill="#000"/><path d="M792.1 100.7L818.7 100.7" stroke="#000" stroke-width="2.9" fill="none"/><path d="M830.9 100.7L818.2 105.1L818.2 96.2Z" fill="#000"/><path d="M812.5 95.6L826.2 102.7" stroke="#000" stroke-width="2.5" fill="none"/><path d="M836.1 107.9L823.9 106.1L827.7 98.9Z" fill="#000"/><path d="M764.4 130.4L763.6 124" stroke="#000" stroke-width="2.2" fill="none"/><path d="M762.4 115L767 124.1L760.3 125Z" fill="#000"/><path d="M753.2 147.8L753.2 139.5" stroke="#000" stroke-width="3" fill="none"/><path d="M753.2 127.3L757.6 140L748.8 140Z" fill="#000"/><path d="M752.2 110.9L753.5 106.6" stroke="#000" stroke-width="2.2" fill="none"/><path d="M755.2 100.7L756.2 107.9L750.4 106.2Z" fill="#000"/><path d="M781.8 114L786.6 112.3" stroke="#000" stroke-width="2.2" fill="none"/><path d="M793.1 109.9L787.1 115.3L785.1 109.6Z" fill="#000"/><path d="M783.9 144.7L777.2 147.2" stroke="#000" stroke-width="2.5" fill="none"/><path d="M767.5 150.8L776.3 143.5L779 150.6Z" fill="#000"/><path d="M769.6 155.9L764.8 154.7" stroke="#000" stroke-width="2.2" fill="none"/><path d="M758.3 152.9L766.1 151.9L764.5 157.7Z" fill="#000"/><path d="M826.9 119.1L808.3 140.6" stroke="#000" stroke-width="2.9" fill="none"/><path d="M800.3 149.8L805.2 137.3L812 143.1Z" fill="#000"/><path d="M814.6 137.5L781.2 173.4" stroke="#000" stroke-width="2.5" fill="none"/><path d="M773.6 181.5L778.6 170.3L784.5 175.8Z" fill="#000"/><path d="M812.5 145.7L792.2 169.1" stroke="#000" stroke-width="2.5" fill="none"/><path d="M784.9 177.4L789.5 166L795.6 171.3Z" fill="#000"/><path d="M806.4 151.9L802.7 160.1" stroke="#000" stroke-width="2.5" fill="none"/><path d="M798.2 170.3L799.2 158L806.6 161.3Z" fill="#000"/><path d="M797.2 178.5L795.9 184.4" stroke="#000" stroke-width="2.2" fill="none"/><path d="M794.1 192.8L792.9 183.2L799.1 184.6Z" fill="#000"/><path d="M771.6 192.8L775.5 196.6" stroke="#000" stroke-width="2.2" fill="none"/><path d="M780.8 202L773 198.4L777.2 194.1Z" fill="#000"/><path d="M780.8 213.2L785.9 215.8" stroke="#000" stroke-width="2.2" fill="none"/><path d="M793.1 219.4L784.1 218.3L786.8 212.9Z" fill="#000"/><path d="M804.3 217.3L809.5 217.3" stroke="#000" stroke-width="2.2" fill="none"/><path d="M816.6 217.3L809 220.4L809 214.3Z" fill="#000"/><path d="M819.7 213.2L824.3 209" stroke="#000" stroke-width="2.2" fill="none"/><path d="M830.9 203L826.2 211.8L821.8 206.9Z" fill="#000"/><path d="M791 228.6L796.6 229.9" stroke="#000" stroke-width="2.2" fill="none"/><path d="M804.3 231.7L795.4 232.7L796.8 226.8Z" fill="#000"/><path d="M812.5 231.7L818.4 229.6" stroke="#000" stroke-width="2.2" fill="none"/><path d="M826.9 226.5L819.1 232.8L816.9 226.6Z" fill="#000"/><path d="M833 229.6L839.6 219.8" stroke="#000" stroke-width="2.2" fill="none"/><path d="M845.3 211.2L842.4 222.3L836.1 218.1Z" fill="#000"/><path d="M822.8 187.7L825.7 181.4" stroke="#000" stroke-width="2.2" fill="none"/><path d="M829.9 172.3L828.8 183.4L822.2 180.3Z" fill="#000"/><path d="M834 197.9L839.2 181.1" stroke="#000" stroke-width="2.2" fill="none"/><path d="M842.2 171.3L842.6 182.7L835.4 180.5Z" fill="#000"/><path d="M835 172.3L837.1 131" stroke="#000" stroke-width="1.8" fill="none"/><path d="M837.1 131.4L837.1 131.5L837 131.5Z" fill="#000"/><path d="M828.9 108.9L835.1 137.9" stroke="#000" stroke-width="1.8" fill="none"/><path d="M835 137.5L835 137.4L835.1 137.4Z" fill="#000"/><path d="M806.4 119.1L802.2 148.2" stroke="#000" stroke-width="2.5" fill="none"/><path d="M802.3 147.8L802.3 147.7L802.4 147.7Z" fill="#000"/><path d="M835 96.6L839 96.6" stroke="#000" stroke-width="2.5" fill="none"/><path d="M844.2 96.6L838.5 99.8L838.5 93.4Z" fill="#000"/><path d="M863.7 271.5L863.7 265.9" stroke="#000" stroke-width="2.2" fill="none"/><path d="M863.7 258.2L866.7 266.4L860.7 266.4Z" fill="#000"/><path d="M863.7 309.3L863.7 304.2" stroke="#000" stroke-width="2.2" fill="none"/><path d="M863.7 297.1L866.7 304.7L860.7 304.7Z" fill="#000"/><path d="M863.7 339L863.7 333.9" stroke="#000" stroke-width="2.2" fill="none"/><path d="M863.7 326.7L866.7 334.4L860.7 334.4Z" fill="#000"/><path d="M849.8 287.9L849.8 282.7" stroke="#000" stroke-width="2.2" fill="none"/><path d="M849.8 275.6L852.8 283.2L846.8 283.2Z" fill="#000"/><path d="M850.4 321.6L850.4 316.1" stroke="#000" stroke-width="2.2" fill="none"/><path d="M850.4 308.3L853.4 316.6L847.4 316.6Z" fill="#000"/><path d="M863.8 231V85.2" stroke="#000" stroke-width="3"/><path d="M863.8 78L859.3 91L868.3 91Z" fill="#000"/><path d="M863.8 109L859.8 120L867.8 120Z" fill="#000"/><path d="M863.8 150L859.8 161L867.8 161Z" fill="#000"/><path d="M863.8 187L859.8 198L867.8 198Z" fill="#000"/><path d="M863.8 266L863.8 262.5" stroke="#000" stroke-width="1.8" fill="none"/><path d="M863.8 258L867 263L860.6 263Z" fill="#000"/><path d="M762.4 182.6L864.7 93.5" stroke="#ff0000" stroke-width="4.2" stroke-dasharray="4.2 4.6" fill="none"/><path d="M769.6 107.9C772.3 107.2 780.5 104.2 785.9 103.8C791.4 103.3 798 103.3 802.3 105.2C806.6 107.1 810.1 111 811.5 115C812.9 119 812.6 125.7 810.9 129.3C809.2 133 804.6 135.8 801.3 137.1C798 138.4 792.7 137.1 791 137.1" fill="none" stroke="#ff0000" stroke-width="4.6" stroke-linecap="butt"/><path d="M798.2 136.7L790.1 136.4" stroke="#ff0000" stroke-width="4.6" fill="none"/><path d="M778.2 135.9L790.8 130.6L790.3 142.2Z" fill="#ff0000"/><path d="M863.7 210.8C863.9 207.8 865.1 199.9 864.7 192.8C864.4 185.7 863.5 175.7 861.6 168.2C859.8 160.7 856.9 153.2 853.5 147.8C850 142.3 844.9 138 841.2 135.5C837.4 132.9 834.4 131.7 830.9 132.4C827.5 133.1 823.6 135.7 820.7 139.6C817.8 143.5 815.2 149.5 813.6 155.9C811.9 162.4 811.3 174.7 810.9 178.5" fill="none" stroke="#ff0000" stroke-width="4.6" stroke-linecap="butt"/><path d="M810.9 172.3L810.7 182" stroke="#ff0000" stroke-width="4.6" fill="none"/><path d="M810.5 196.5L804.1 181.4L817.3 181.6Z" fill="#ff0000"/><circle cx="954" cy="120" r="11.8" fill="#fff" stroke="#000" stroke-width="2.8"/><path d="M942.2 120H965.8" stroke="#000" stroke-width="4.2"/><path d="M954 108.2V131.8" stroke="#000" stroke-width="4.2"/><circle cx="931" cy="312" r="11.8" fill="#fff" stroke="#000" stroke-width="2.8"/><path d="M919.2 312H942.8" stroke="#000" stroke-width="4.2"/><path d="M1105.5 92.1C1105.8 95.2 1106.6 103.9 1107.6 110.6C1108.7 117.2 1108.9 121.8 1111.6 132.1C1114.3 142.3 1119.3 159.2 1123.9 172C1128.5 184.8 1133.6 198.6 1139.3 208.8C1144.9 219.1 1151.5 227.5 1157.7 233.4C1163.8 239.3 1170 242 1176.1 244.2C1182.3 246.3 1188.9 246.8 1194.5 246.3C1200.2 245.8 1207.3 242 1209.9 241.1L1229.3 200L1229.3 90Z" fill="url(#gr5)" stroke="#94b0c0" stroke-width="1.7" clip-path="url(#cr5)"/><path d="M1200.7 279.3C1195.6 279.8 1177.7 280.5 1170 282.4C1162.3 284.3 1157.7 282.4 1154.6 290.7C1151.5 299 1153.1 318.6 1151.5 332.1C1150 345.7 1146.8 361.3 1145.4 372.1C1144 382.8 1140.9 390.2 1142.9 396.6C1145 403 1152.2 409.9 1157.7 410.5C1163.2 411 1173 401.5 1176.1 399.7L1229.3 330Z" fill="url(#glb)" stroke="#94b2c6" stroke-width="1.7" clip-path="url(#cr5)"/><path d="M991.6 94L995.6 213L1039.3 392.6A66.9 66.9 0 0 0 1169.3 392.6L1213 213L1217 94" fill="none" stroke="#000" stroke-width="3"/><path d="M1019.8 96.6L1012.7 97.3" stroke="#000" stroke-width="2.3" fill="none"/><path d="M1002.4 98.2L1012.8 93.4L1013.5 101Z" fill="#000"/><path d="M1043.3 98.6L1034.3 97.7" stroke="#000" stroke-width="2.3" fill="none"/><path d="M1023.9 96.6L1035.2 93.9L1034.4 101.6Z" fill="#000"/><path d="M1073 112.6L1067.5 110" stroke="#000" stroke-width="2.1" fill="none"/><path d="M1059.7 106.4L1069.3 107.3L1066.6 113.1Z" fill="#000"/><path d="M1054.6 115.6L1045 110.6" stroke="#000" stroke-width="2.5" fill="none"/><path d="M1035.1 105.4L1047.4 107.2L1043.6 114.5Z" fill="#000"/><path d="M1036.2 110.1L1026.1 109.7" stroke="#000" stroke-width="2.3" fill="none"/><path d="M1015.7 109.3L1026.8 105.9L1026.5 113.5Z" fill="#000"/><path d="M1006.5 107.4L1001.7 113.5" stroke="#000" stroke-width="2.3" fill="none"/><path d="M995.2 121.8L999 110.8L1005 115.5Z" fill="#000"/><path d="M1023.9 110.5L1011 119.9" stroke="#000" stroke-width="2.8" fill="none"/><path d="M1001.4 126.9L1008.9 116.1L1014 123.1Z" fill="#000"/><path d="M1029 130L1022.7 129.5" stroke="#000" stroke-width="2.3" fill="none"/><path d="M1013.6 128.9L1023.4 126.2L1022.9 132.9Z" fill="#000"/><path d="M1047.4 143.3L1036.6 133" stroke="#000" stroke-width="2.3" fill="none"/><path d="M1029 125.9L1039.6 130.6L1034.3 136.2Z" fill="#000"/><path d="M1052.5 171.9L1046.1 162.2" stroke="#000" stroke-width="2.3" fill="none"/><path d="M1040.3 153.5L1049.5 160.5L1043.1 164.7Z" fill="#000"/><path d="M1037.2 158.6L1030.9 159.4" stroke="#000" stroke-width="2.3" fill="none"/><path d="M1021.8 160.6L1030.9 156.1L1031.8 162.7Z" fill="#000"/><path d="M1018.8 140.2L1011.3 154.4" stroke="#000" stroke-width="2.3" fill="none"/><path d="M1006.5 163.7L1008.2 152.2L1015 155.8Z" fill="#000"/><path d="M1002.4 128.9L1000.1 146.5" stroke="#000" stroke-width="3.2" fill="none"/><path d="M998.3 159.6L995.4 145.3L1004.9 146.6Z" fill="#000"/><path d="M999.3 157.6L1000.1 193.4" stroke="#000" stroke-width="3.2" fill="none"/><path d="M1000.3 206.7L995.3 193L1004.9 192.8Z" fill="#000"/><path d="M1000.3 202.6L1005.7 227.5" stroke="#000" stroke-width="3.2" fill="none"/><path d="M1008.5 240.5L1000.9 228L1010.3 226Z" fill="#000"/><path d="M1008.5 239.4L1014.3 253.9" stroke="#000" stroke-width="2.8" fill="none"/><path d="M1018.8 265L1010.1 255.1L1018.2 251.9Z" fill="#000"/><path d="M1007.5 186.2L1010.8 210.9" stroke="#000" stroke-width="3.2" fill="none"/><path d="M1012.6 224.1L1006 211.1L1015.5 209.8Z" fill="#000"/><path d="M1012.6 219L1023.3 247.5" stroke="#000" stroke-width="3.2" fill="none"/><path d="M1028 259.9L1018.6 248.7L1027.6 245.3Z" fill="#000"/><path d="M1023.9 257.8L1028.9 262.1" stroke="#000" stroke-width="2.8" fill="none"/><path d="M1036.2 268.1L1026.3 264.4L1030.8 259.1Z" fill="#000"/><path d="M1035.1 272.2L1041.1 273.4" stroke="#000" stroke-width="2.3" fill="none"/><path d="M1049.5 275.2L1039.9 276.4L1041.2 270.2Z" fill="#000"/><path d="M1051.5 281.4L1057.5 281.4" stroke="#000" stroke-width="2.3" fill="none"/><path d="M1065.8 281.4L1057 284.5L1057 278.3Z" fill="#000"/><path d="M1027 212.8L1032.4 215.8" stroke="#000" stroke-width="2.3" fill="none"/><path d="M1040.3 220L1030.5 218.4L1033.6 212.7Z" fill="#000"/><path d="M1023.9 235.3L1034.8 241.1" stroke="#000" stroke-width="2.8" fill="none"/><path d="M1045.4 246.6L1032.3 244.7L1036.4 237Z" fill="#000"/><path d="M1038.2 247.6L1047.8 247.6" stroke="#000" stroke-width="2.8" fill="none"/><path d="M1059.7 247.6L1047.3 252L1047.3 243.3Z" fill="#000"/><path d="M1053.6 263L1060.2 260" stroke="#000" stroke-width="2.8" fill="none"/><path d="M1069.9 255.8L1061.3 263.8L1058.2 256.7Z" fill="#000"/><path d="M1067.9 275.2L1072.1 271" stroke="#000" stroke-width="2.3" fill="none"/><path d="M1078.1 265L1074 273.6L1069.5 269.1Z" fill="#000"/><path d="M1042.3 224.1L1048.7 220.3" stroke="#000" stroke-width="2.3" fill="none"/><path d="M1057.6 214.9L1050.2 223.8L1046.3 217.2Z" fill="#000"/><path d="M1051.5 238.4L1062.5 227.4" stroke="#000" stroke-width="2.8" fill="none"/><path d="M1070.9 219L1065.2 230.8L1059.1 224.7Z" fill="#000"/><path d="M1065.8 247.6L1073.7 236.3" stroke="#000" stroke-width="2.5" fill="none"/><path d="M1080.2 227.2L1076.8 239.1L1070.1 234.4Z" fill="#000"/><path d="M1079.1 256.8L1082.6 249.6" stroke="#000" stroke-width="2.5" fill="none"/><path d="M1087.3 239.4L1086 251.8L1078.6 248.3Z" fill="#000"/><path d="M1093.5 269.1L1095.2 264" stroke="#000" stroke-width="2.1" fill="none"/><path d="M1097.6 256.8L1097.7 265.3L1092.3 263.5Z" fill="#000"/><path d="M1091.4 246.6L1094.4 231" stroke="#000" stroke-width="2.5" fill="none"/><path d="M1096.5 220L1098.3 232.2L1090.3 230.7Z" fill="#000"/><path d="M1039.2 199.5L1045.4 188.2" stroke="#000" stroke-width="2.3" fill="none"/><path d="M1050.5 179.1L1048.6 190.5L1041.8 186.8Z" fill="#000"/><path d="M1049.5 212.8L1059.7 188.7" stroke="#000" stroke-width="2.3" fill="none"/><path d="M1063.8 179.1L1063 190.6L1056 187.7Z" fill="#000"/><path d="M1063.8 198.5L1068.6 160.8" stroke="#000" stroke-width="2.3" fill="none"/><path d="M1069.9 150.4L1072.3 161.8L1064.7 160.8Z" fill="#000"/><path d="M1066.9 212.8L1072.9 198.9" stroke="#000" stroke-width="2.3" fill="none"/><path d="M1077.1 189.3L1076.2 200.9L1069.2 197.8Z" fill="#000"/><path d="M1080.2 206.7L1081.2 175.6" stroke="#000" stroke-width="1.7" fill="none"/><path d="M1081.2 176L1081.2 176.1L1081.1 176.1Z" fill="#000"/><path d="M1079.1 229.2L1083 217.6" stroke="#000" stroke-width="2.3" fill="none"/><path d="M1086.3 207.7L1086.5 219.3L1079.2 216.9Z" fill="#000"/><path d="M1090.4 221L1093.5 181" stroke="#000" stroke-width="3.2" fill="none"/><path d="M1094.5 167.8L1098.2 181.9L1088.6 181.2Z" fill="#000"/><path d="M1089.4 198.5L1094.4 144.9" stroke="#000" stroke-width="2.8" fill="none"/><path d="M1095.5 133L1098.7 145.8L1090 145Z" fill="#000"/><path d="M1091.4 167.8L1086.8 133.6" stroke="#000" stroke-width="2.8" fill="none"/><path d="M1085.3 121.8L1091.2 133.5L1082.6 134.6Z" fill="#000"/><path d="M1087.3 128.9L1083.3 116.4" stroke="#000" stroke-width="2.3" fill="none"/><path d="M1080.2 106.4L1087.1 115.7L1079.8 118Z" fill="#000"/><path d="M1075 178L1075 140.4" stroke="#000" stroke-width="2.3" fill="none"/><path d="M1075 130L1078.9 140.9L1071.2 140.9Z" fill="#000"/><path d="M1063.8 149.4L1062.4 129.1" stroke="#000" stroke-width="2.3" fill="none"/><path d="M1061.7 118.7L1066.3 129.4L1058.6 129.9Z" fill="#000"/><path d="M1070.9 128.9L1064.5 119.2" stroke="#000" stroke-width="2.3" fill="none"/><path d="M1058.7 110.5L1067.9 117.5L1061.6 121.8Z" fill="#000"/><path d="M1104.3 232V105.2" stroke="#000" stroke-width="3"/><path d="M1104.3 98L1099.8 111L1108.8 111Z" fill="#000"/><path d="M1104.3 120L1099.8 132L1108.8 132Z" fill="#000"/><path d="M1104.3 150L1099.8 162L1108.8 162Z" fill="#000"/><path d="M1104.3 193L1099.8 205L1108.8 205Z" fill="#000"/><path d="M1104.3 270L1104.3 252.5" stroke="#000" stroke-width="2.6" fill="none"/><path d="M1104.3 243L1108.8 253L1099.8 253Z" fill="#000"/><path d="M1104.3 292L1104.3 286.9" stroke="#000" stroke-width="1.8" fill="none"/><path d="M1104.3 280L1107.5 287.4L1101.1 287.4Z" fill="#000"/><path d="M1087.3 188.3C1086.3 184.5 1083.9 173.6 1081.2 165.8C1078.5 157.9 1075.4 148.7 1070.9 141.2C1066.5 133.7 1060.7 125.7 1054.6 120.7C1048.4 115.8 1040.3 111.9 1034.1 111.5C1028 111.2 1021.8 114.1 1017.7 118.7C1013.6 123.3 1010.9 131 1009.6 139.2C1008.3 147.3 1009.9 163 1010 167.8" fill="none" stroke="#ff0000" stroke-width="4.6" stroke-linecap="butt"/><path d="M1009.6 165.8L1010.8 175" stroke="#ff0000" stroke-width="4.6" fill="none"/><path d="M1012.6 188.7L1004.5 175.3L1017 173.6Z" fill="#ff0000"/><circle cx="1194" cy="120" r="11.8" fill="#fff" stroke="#000" stroke-width="2.8"/><path d="M1182.2 120H1205.8" stroke="#000" stroke-width="4.2"/><path d="M1194 108.2V131.8" stroke="#000" stroke-width="4.2"/><circle cx="1167" cy="330.2" r="11.8" fill="#fff" stroke="#000" stroke-width="2.8"/><path d="M1155.2 330.2H1178.8" stroke="#000" stroke-width="4.2"/><path d="M1430 315.2C1426.9 314.7 1417.7 314.7 1411.6 312.2C1405.4 309.6 1398.3 303.5 1393.1 299.9C1388 296.3 1383.7 290.7 1380.8 290.7C1378 290.7 1376.5 293 1376.2 299.9C1376 306.8 1378.3 320.1 1379.3 332.1C1380.3 344.2 1381.7 361.8 1382.4 372.1C1383 382.3 1381.5 387.5 1383.3 393.6C1385.1 399.6 1389.7 405.5 1393.1 408.3C1396.6 411.1 1399.8 411.9 1403.9 410.5C1408 409 1415.4 401.5 1417.7 399.7L1470.5 360Z" fill="url(#glb)" stroke="#94b2c6" stroke-width="1.7" clip-path="url(#cr6)"/><path d="M1345.5 92.1C1345.9 94.4 1346.7 100.8 1347.7 106C1348.7 111.1 1349.2 113.9 1351.7 122.9C1354.1 131.8 1359.1 147.4 1362.4 159.7C1365.7 172 1368.6 184.3 1371.6 196.6C1374.7 208.8 1377.8 222.2 1380.8 233.4C1383.9 244.7 1387 256.4 1390.1 264.1C1393.1 271.9 1395.7 273.7 1399.3 279.9C1402.9 286.1 1406.4 296.9 1411.6 301.4C1416.7 305.9 1424.9 307 1430 307C1435.1 307 1440.2 302.3 1442.3 301.4L1470.5 250L1470.5 90Z" fill="url(#gr6)" stroke="#94b0c0" stroke-width="1.7" clip-path="url(#cr6)"/><path d="M1232.8 94L1236.8 213L1280.5 392.6A66.9 66.9 0 0 0 1410.5 392.6L1454.2 213L1458.2 94" fill="none" stroke="#000" stroke-width="3"/><path d="M1255.6 93.7L1250.1 95.2" stroke="#000" stroke-width="2" fill="none"/><path d="M1242.3 97.2L1249.8 92.2L1251.3 97.9Z" fill="#000"/><path d="M1276.1 94.1L1270.5 93.5" stroke="#000" stroke-width="2" fill="none"/><path d="M1262.8 92.5L1271.4 90.6L1270.7 96.4Z" fill="#000"/><path d="M1249.5 108.5L1244.4 111.4" stroke="#000" stroke-width="2" fill="none"/><path d="M1237.2 115.6L1243.3 108.5L1246.4 113.8Z" fill="#000"/><path d="M1271 107.4L1264 106.6" stroke="#000" stroke-width="2" fill="none"/><path d="M1254.6 105.4L1265 103.2L1264.1 110.1Z" fill="#000"/><path d="M1295.5 111.5L1285.1 106" stroke="#000" stroke-width="2.2" fill="none"/><path d="M1276.1 101.3L1287.2 103L1283.8 109.5Z" fill="#000"/><path d="M1306.8 120.7L1296.2 111.9" stroke="#000" stroke-width="2.2" fill="none"/><path d="M1288.4 105.4L1298.9 109.3L1294.2 115.1Z" fill="#000"/><path d="M1321.1 109.5L1315.6 107.4" stroke="#000" stroke-width="2" fill="none"/><path d="M1307.8 104.4L1317.2 104.7L1314.9 110.4Z" fill="#000"/><path d="M1321.1 127.9L1312.8 117.8" stroke="#000" stroke-width="2" fill="none"/><path d="M1306.8 110.5L1315.8 116L1310.4 120.5Z" fill="#000"/><path d="M1253.6 112.6L1249.7 116.4" stroke="#000" stroke-width="2" fill="none"/><path d="M1244.4 121.8L1248.1 114.1L1252.1 118.1Z" fill="#000"/><path d="M1265.9 123.8L1261.5 123.4" stroke="#000" stroke-width="2" fill="none"/><path d="M1255.6 122.8L1262.2 120.6L1261.7 126.2Z" fill="#000"/><path d="M1278.1 137.1L1274.7 132.4" stroke="#000" stroke-width="2" fill="none"/><path d="M1270 125.9L1277.5 131.1L1272.6 134.6Z" fill="#000"/><path d="M1291.4 150.4L1287.2 137" stroke="#000" stroke-width="2" fill="none"/><path d="M1284.3 127.9L1290.6 136.4L1284 138.5Z" fill="#000"/><path d="M1241.3 124.8L1241.3 131.6" stroke="#000" stroke-width="2.2" fill="none"/><path d="M1241.3 141.2L1237.8 131.1L1244.9 131.1Z" fill="#000"/><path d="M1241.3 146.3L1242.3 182.5" stroke="#000" stroke-width="2.4" fill="none"/><path d="M1242.3 182.1L1242.3 182L1242.4 182Z" fill="#000"/><path d="M1240.3 178L1243.7 200.1" stroke="#000" stroke-width="2.4" fill="none"/><path d="M1245.4 210.8L1239.8 200.2L1247.5 199Z" fill="#000"/><path d="M1253.6 143.3L1251.9 148.4" stroke="#000" stroke-width="1.8" fill="none"/><path d="M1249.5 155.5L1249.4 147L1254.7 148.8Z" fill="#000"/><path d="M1274 151.4L1270.9 153.9" stroke="#000" stroke-width="1.8" fill="none"/><path d="M1266.9 157.2L1269.7 151.6L1273 155.7Z" fill="#000"/><path d="M1255.6 167.8L1255.6 179.8" stroke="#000" stroke-width="2" fill="none"/><path d="M1255.6 189.3L1252.1 179.3L1259.1 179.3Z" fill="#000"/><path d="M1270 181.1L1270 186.3" stroke="#000" stroke-width="1.8" fill="none"/><path d="M1270 193.4L1267.3 185.8L1272.6 185.8Z" fill="#000"/><path d="M1255.6 198.5L1256.7 209.5" stroke="#000" stroke-width="2" fill="none"/><path d="M1257.7 219L1253.2 209.4L1260.2 208.7Z" fill="#000"/><path d="M1266.9 207.7L1268.2 213.3" stroke="#000" stroke-width="1.8" fill="none"/><path d="M1270 221L1265.2 213.4L1270.9 212.1Z" fill="#000"/><path d="M1266.9 234.3L1268.9 243.5" stroke="#000" stroke-width="2" fill="none"/><path d="M1271 252.7L1265.4 243.7L1272.2 242.2Z" fill="#000"/><path d="M1256.6 231.2L1258 238.3" stroke="#000" stroke-width="2" fill="none"/><path d="M1259.7 247.6L1254.4 238.4L1261.3 237.1Z" fill="#000"/><path d="M1252.6 248.6L1256.9 268" stroke="#000" stroke-width="3" fill="none"/><path d="M1259.7 280.4L1252.3 268.5L1261.3 266.5Z" fill="#000"/><path d="M1262.8 259.9L1268.2 274.4" stroke="#000" stroke-width="2.4" fill="none"/><path d="M1272 284.5L1264.3 275.3L1271.7 272.5Z" fill="#000"/><path d="M1275.1 274.2L1278.1 278.9" stroke="#000" stroke-width="2" fill="none"/><path d="M1282.2 285.5L1275.3 280.1L1280.2 276.9Z" fill="#000"/><path d="M1236.2 165.8L1240.3 215.3" stroke="#000" stroke-width="3" fill="none"/><path d="M1240.3 214.9L1240.2 214.8L1240.3 214.8Z" fill="#000"/><path d="M1240.3 212.8L1254.7 291" stroke="#000" stroke-width="3.2" fill="none"/><path d="M1254.6 290.6L1254.5 290.5L1254.6 290.5Z" fill="#000"/><path d="M1292.5 178L1290.5 161.9" stroke="#000" stroke-width="2" fill="none"/><path d="M1289.4 152.5L1294.1 162L1287.1 162.8Z" fill="#000"/><path d="M1292.5 206.7L1291.1 189.6" stroke="#000" stroke-width="2" fill="none"/><path d="M1290.4 180.1L1294.7 189.8L1287.7 190.3Z" fill="#000"/><path d="M1292.5 235.3L1292.5 222.3" stroke="#000" stroke-width="2" fill="none"/><path d="M1292.5 212.8L1296 222.8L1289 222.8Z" fill="#000"/><path d="M1290.4 259.9L1292.9 251.6" stroke="#000" stroke-width="2" fill="none"/><path d="M1295.5 242.5L1296.1 253.1L1289.4 251.1Z" fill="#000"/><path d="M1289.4 284.5L1295.5 277.3" stroke="#000" stroke-width="2" fill="none"/><path d="M1301.7 270.1L1297.8 280L1292.5 275.4Z" fill="#000"/><path d="M1304.7 173.9L1301.9 147.4" stroke="#000" stroke-width="2.6" fill="none"/><path d="M1300.6 136.1L1306.1 147.5L1297.8 148.4Z" fill="#000"/><path d="M1305.8 210.8L1305 183.3" stroke="#000" stroke-width="2.6" fill="none"/><path d="M1304.7 171.9L1309.2 183.7L1300.9 183.9Z" fill="#000"/><path d="M1304.7 245.6L1307.9 210.6" stroke="#000" stroke-width="2.2" fill="none"/><path d="M1308.8 200.6L1311.6 211.5L1304.2 210.8Z" fill="#000"/><path d="M1306.8 273.2L1313.1 240.2" stroke="#000" stroke-width="2.2" fill="none"/><path d="M1315 230.2L1316.6 241.4L1309.3 240Z" fill="#000"/><path d="M1309.9 289.6L1316 275.3" stroke="#000" stroke-width="2.2" fill="none"/><path d="M1320.1 266L1319.3 277.3L1312.4 274.3Z" fill="#000"/><path d="M1316 135.1L1314.3 129.5" stroke="#000" stroke-width="2.6" fill="none"/><path d="M1311.9 121.8L1317.6 129L1311.3 131Z" fill="#000"/><path d="M1317 190.3L1315.6 166.9" stroke="#000" stroke-width="2.6" fill="none"/><path d="M1315 155.5L1319.8 167.2L1311.5 167.7Z" fill="#000"/><path d="M1318 219L1317.3 191.5" stroke="#000" stroke-width="2.6" fill="none"/><path d="M1317 180.1L1321.5 191.9L1313.2 192.1Z" fill="#000"/><path d="M1318 251.7L1320.4 216.8" stroke="#000" stroke-width="2.2" fill="none"/><path d="M1321.1 206.7L1324.1 217.6L1316.7 217.1Z" fill="#000"/><path d="M1321.1 274.2L1325 257.5" stroke="#000" stroke-width="2.2" fill="none"/><path d="M1327.2 247.6L1328.5 258.8L1321.2 257.1Z" fill="#000"/><path d="M1334.4 239.4L1330.8 118.9" stroke="#000" stroke-width="3.1" fill="none"/><path d="M1330.3 104.4L1335.5 119.2L1326 119.5Z" fill="#000"/><path d="M1330.9 149.4L1330.8 143.8" stroke="#000" stroke-width="3.1" fill="none"/><path d="M1330.5 136.1L1334.6 144.2L1327 144.5Z" fill="#000"/><path d="M1332 176L1331.6 162.9" stroke="#000" stroke-width="3.1" fill="none"/><path d="M1331.1 149.4L1336.3 163.2L1326.8 163.5Z" fill="#000"/><path d="M1335.4 219L1336.8 194.9" stroke="#000" stroke-width="2.4" fill="none"/><path d="M1337.5 184.2L1340.8 195.7L1332.9 195.2Z" fill="#000"/><path d="M1333.4 259.9L1334.5 248.5" stroke="#000" stroke-width="2.2" fill="none"/><path d="M1335.4 238.4L1338.1 249.4L1330.7 248.6Z" fill="#000"/><path d="M1336.5 276.3L1337.3 270.3" stroke="#000" stroke-width="2" fill="none"/><path d="M1338.5 261.9L1340.3 271.3L1334.1 270.4Z" fill="#000"/><path d="M1246.4 250L1255.7 271.1" stroke="#000" stroke-width="3" fill="none"/><path d="M1260.7 282.7L1251.2 272.5L1259.7 268.8Z" fill="#000"/><path d="M1252.6 250L1256.9 267.6" stroke="#000" stroke-width="2.6" fill="none"/><path d="M1259.7 278.6L1252.8 268.1L1260.9 266.1Z" fill="#000"/><path d="M1262.8 259.2L1268.6 275.2" stroke="#000" stroke-width="2.2" fill="none"/><path d="M1272 284.8L1264.9 276L1271.9 273.5Z" fill="#000"/><path d="M1274 274.6L1277.7 279.6" stroke="#000" stroke-width="2" fill="none"/><path d="M1282.8 286.8L1274.7 281.1L1280.1 277.3Z" fill="#000"/><path d="M1280.2 294L1286.9 298.2" stroke="#000" stroke-width="2.2" fill="none"/><path d="M1295.5 303.6L1284.5 301.1L1288.5 294.8Z" fill="#000"/><path d="M1262.8 282.7L1271.3 305.1" stroke="#000" stroke-width="3.2" fill="none"/><path d="M1276.1 317.5L1266.6 306.3L1275.6 302.9Z" fill="#000"/><path d="M1258.7 295L1274.6 330" stroke="#000" stroke-width="3.2" fill="none"/><path d="M1280.2 342.1L1270.1 331.5L1278.8 327.5Z" fill="#000"/><path d="M1278.1 318.6L1286.8 323.6" stroke="#000" stroke-width="2.2" fill="none"/><path d="M1295.5 328.8L1284.5 326.6L1288.2 320.2Z" fill="#000"/><path d="M1289.4 286.8L1295.6 278.6" stroke="#000" stroke-width="2.2" fill="none"/><path d="M1301.7 270.5L1298.3 281.2L1292.3 276.7Z" fill="#000"/><path d="M1294.5 309.3L1307.6 300.4" stroke="#000" stroke-width="2.6" fill="none"/><path d="M1317 294L1309.5 304.1L1304.8 297.3Z" fill="#000"/><path d="M1308.8 293L1315.6 276.9" stroke="#000" stroke-width="2.6" fill="none"/><path d="M1320.1 266.4L1319.3 279L1311.6 275.7Z" fill="#000"/><path d="M1305.8 272.5L1312 247.6" stroke="#000" stroke-width="2" fill="none"/><path d="M1311.9 248L1311.9 248.1L1311.8 248Z" fill="#000"/><path d="M1321.1 273.5L1323.9 260.5" stroke="#000" stroke-width="2.4" fill="none"/><path d="M1326.2 250L1327.7 261.9L1320 260.2Z" fill="#000"/><path d="M1322.1 308.3L1326.3 297.9" stroke="#000" stroke-width="2.4" fill="none"/><path d="M1330.3 287.9L1329.8 299.8L1322.5 296.9Z" fill="#000"/><path d="M1305.4 320.6L1310.6 316.4" stroke="#000" stroke-width="2.4" fill="none"/><path d="M1318 310.4L1312.4 319.5L1308 314Z" fill="#000"/><path d="M1333.4 295L1336.8 273.9" stroke="#000" stroke-width="2.4" fill="none"/><path d="M1338.5 263.3L1340.6 275.1L1332.8 273.8Z" fill="#000"/><path d="M1319.1 337L1321.2 332.6" stroke="#000" stroke-width="2" fill="none"/><path d="M1324.2 326.7L1323.5 334.3L1318.5 331.8Z" fill="#000"/><path d="M1332.4 323.7L1333.4 317.7" stroke="#000" stroke-width="2" fill="none"/><path d="M1334.8 309.3L1336.4 318.8L1330.2 317.7Z" fill="#000"/><path d="M1337.1 346.2L1337.2 341.8" stroke="#000" stroke-width="2" fill="none"/><path d="M1337.5 335.9L1340 342.4L1334.4 342.2Z" fill="#000"/><path d="M1345.5 280V115.3" stroke="#000" stroke-width="3"/><path d="M1345.5 107.5L1340.5 122.5L1350.5 122.5Z" fill="#000"/><path d="M1345.5 129L1340.8 142L1350.2 142Z" fill="#000"/><path d="M1345.5 155.5L1340.8 168.5L1350.2 168.5Z" fill="#000"/><path d="M1345.5 178L1340.8 191L1350.2 191Z" fill="#000"/><path d="M1345.5 213L1340.8 226L1350.2 226Z" fill="#000"/><path d="M1345.5 250L1340.8 263L1350.2 263Z" fill="#000"/><path d="M1345.5 303L1345.5 291.2" stroke="#000" stroke-width="2" fill="none"/><path d="M1345.5 281.7L1350 291.7L1341 291.7Z" fill="#000"/><path d="M1345.5 334L1345.5 324" stroke="#000" stroke-width="2" fill="none"/><path d="M1345.5 314.5L1350 324.5L1341 324.5Z" fill="#000"/><path d="M1342.6 249.7C1341.9 244.9 1340.6 232.6 1338.5 221C1336.5 209.4 1334.1 192.7 1330.3 180.1C1326.6 167.5 1321.8 155.5 1316 145.3C1310.2 135.1 1303 125 1295.5 118.7C1288 112.4 1277.6 107.8 1271 107.4C1264.3 107.1 1259.4 111 1255.6 116.6C1251.9 122.3 1249.7 130.6 1248.5 141.2C1247.2 151.8 1247.7 168.2 1248.1 180.1C1248.4 192 1250.1 207.4 1250.5 212.8" fill="none" stroke="#ff0000" stroke-width="4.6" stroke-linecap="butt"/><path d="M1250.1 208.7L1251.5 219.2" stroke="#ff0000" stroke-width="4.6" fill="none"/><path d="M1253.6 234.9L1244.3 219.6L1258.6 217.7Z" fill="#ff0000"/><circle cx="1435" cy="119" r="11.8" fill="#fff" stroke="#000" stroke-width="2.8"/><path d="M1423.2 119H1446.8" stroke="#000" stroke-width="4.2"/><path d="M1435 107.2V130.8" stroke="#000" stroke-width="4.2"/><circle cx="1399" cy="362" r="11.8" fill="#fff" stroke="#000" stroke-width="2.8"/><path d="M1387.2 362H1410.8" stroke="#000" stroke-width="4.2"/><path d="M1657.3 379.7C1654.2 380.3 1644 383.6 1638.8 382.8C1633.7 382 1630.6 379 1626.5 375.1C1622.5 371.3 1617.3 364.6 1614.3 359.8C1611.2 354.9 1609.7 345.4 1608.1 346C1606.6 346.5 1605.3 356.5 1605 362.9C1604.8 369.2 1605 378.2 1606.6 384.3C1608.1 390.5 1610.4 395.7 1614.3 399.7C1618.1 403.7 1624.8 407 1629.6 408.3C1634.5 409.6 1639.3 408.8 1643.4 407.4C1647.5 406 1652.4 401 1654.2 399.7Z" fill="url(#glb7)" stroke="#94b2c6" stroke-width="1.7" clip-path="url(#cr7)"/><path d="M1585.1 92.1C1585.4 94.4 1586.2 100.8 1587.2 106C1588.3 111.1 1589.3 113.9 1591.2 122.9C1593.2 131.8 1596.9 147.4 1598.9 159.7C1601 172 1602.2 184.3 1603.5 196.6C1604.8 208.8 1605.3 220.1 1606.6 233.4C1607.9 246.7 1609.4 262.5 1611.2 276.4C1613 290.3 1614.8 304.4 1617.3 316.8C1619.9 329.1 1623 341.4 1626.5 350.6C1630.1 359.8 1634.7 367.7 1638.8 372.1C1642.9 376.4 1647 376.7 1651.1 376.7C1655.2 376.7 1661.4 372.8 1663.4 372.1L1710.7 300L1710.7 90Z" fill="url(#gr6)" stroke="#94b0c0" stroke-width="1.7" clip-path="url(#cr7)"/><path d="M1473 94L1477 213L1520.7 392.6A66.9 66.9 0 0 0 1650.7 392.6L1694.4 213L1698.4 94" fill="none" stroke="#000" stroke-width="3"/><path d="M1496.7 94.5L1490.8 95.7" stroke="#000" stroke-width="2" fill="none"/><path d="M1482.4 97.2L1490.7 92.5L1491.8 98.7Z" fill="#000"/><path d="M1516.1 94.1L1510.6 93.5" stroke="#000" stroke-width="2" fill="none"/><path d="M1502.8 92.5L1511.4 90.6L1510.7 96.4Z" fill="#000"/><path d="M1512 106.4L1503.1 106.4" stroke="#000" stroke-width="2" fill="none"/><path d="M1493.6 106.4L1503.6 102.9L1503.6 109.9Z" fill="#000"/><path d="M1488.5 109.5L1483.8 112.1" stroke="#000" stroke-width="2" fill="none"/><path d="M1477.3 115.6L1482.9 109.4L1485.6 114.3Z" fill="#000"/><path d="M1535.6 107.4L1525.8 104.4" stroke="#000" stroke-width="2.2" fill="none"/><path d="M1516.1 101.3L1527.4 101L1525.2 108.1Z" fill="#000"/><path d="M1561.2 109.5L1555.6 107.2" stroke="#000" stroke-width="2" fill="none"/><path d="M1547.9 104L1557.3 104.5L1554.9 110.3Z" fill="#000"/><path d="M1562.2 128.9L1553 118.6" stroke="#000" stroke-width="2.4" fill="none"/><path d="M1545.8 110.5L1556.2 116.3L1550.4 121.6Z" fill="#000"/><path d="M1547.9 137.1L1538.6 122.6" stroke="#000" stroke-width="2" fill="none"/><path d="M1533.5 114.6L1541.9 121.2L1535.9 124.9Z" fill="#000"/><path d="M1492.6 112.6L1489.2 116.4" stroke="#000" stroke-width="2" fill="none"/><path d="M1484.4 121.8L1487.4 114.2L1491.6 117.9Z" fill="#000"/><path d="M1504.9 124.8L1500.1 123.5" stroke="#000" stroke-width="2" fill="none"/><path d="M1493.6 121.8L1501.3 121L1499.9 126.4Z" fill="#000"/><path d="M1519.2 137.1L1515.4 132.4" stroke="#000" stroke-width="2" fill="none"/><path d="M1510 125.9L1518.1 130.8L1513.3 134.8Z" fill="#000"/><path d="M1531.5 149.4L1527.3 136.9" stroke="#000" stroke-width="2" fill="none"/><path d="M1524.3 127.9L1530.8 136.3L1524.2 138.5Z" fill="#000"/><path d="M1481.3 123.8L1481.3 131.5" stroke="#000" stroke-width="2.2" fill="none"/><path d="M1481.3 141.6L1477.6 131L1485.1 131Z" fill="#000"/><path d="M1481.3 146.3L1481.3 178.4" stroke="#000" stroke-width="2.2" fill="none"/><path d="M1481.3 178L1481.3 177.9L1481.4 177.9Z" fill="#000"/><path d="M1493.6 143.3L1490.8 150.7" stroke="#000" stroke-width="2" fill="none"/><path d="M1487.5 159.6L1487.7 149L1494.3 151.5Z" fill="#000"/><path d="M1513.1 151.4L1510.4 154" stroke="#000" stroke-width="1.8" fill="none"/><path d="M1506.9 157.2L1508.9 151.7L1512.5 155.5Z" fill="#000"/><path d="M1480.3 178L1484.5 200.2" stroke="#000" stroke-width="2.4" fill="none"/><path d="M1486.5 210.8L1480.5 200.4L1488.3 199Z" fill="#000"/><path d="M1481.3 214.9L1483.4 221.6" stroke="#000" stroke-width="2.6" fill="none"/><path d="M1486.5 231.2L1479.7 222.2L1486.8 220Z" fill="#000"/><path d="M1510 181.1L1510 185.9" stroke="#000" stroke-width="1.8" fill="none"/><path d="M1510 192.4L1507.4 185.4L1512.6 185.4Z" fill="#000"/><path d="M1506.9 207.7L1508.2 213.3" stroke="#000" stroke-width="1.8" fill="none"/><path d="M1510 221L1505.2 213.4L1511 212.1Z" fill="#000"/><path d="M1506.9 233.3L1509.6 243.5" stroke="#000" stroke-width="2" fill="none"/><path d="M1512 252.7L1506.1 244L1512.9 242.2Z" fill="#000"/><path d="M1497.7 212.8L1499.2 238.1" stroke="#000" stroke-width="2" fill="none"/><path d="M1499.8 247.6L1495.7 237.8L1502.7 237.4Z" fill="#000"/><path d="M1516.1 260.9L1519.6 267" stroke="#000" stroke-width="2" fill="none"/><path d="M1524.3 275.2L1516.3 268.3L1522.4 264.8Z" fill="#000"/><path d="M1503.9 261.9L1507.8 274.2" stroke="#000" stroke-width="2.4" fill="none"/><path d="M1511 284.5L1503.8 274.9L1511.4 272.5Z" fill="#000"/><path d="M1496.7 270.1L1498 276.1" stroke="#000" stroke-width="3" fill="none"/><path d="M1499.8 284.5L1494.3 276.3L1501.5 274.8Z" fill="#000"/><path d="M1532.5 177L1530.7 162.5" stroke="#000" stroke-width="2.2" fill="none"/><path d="M1529.4 152.5L1534.4 162.6L1527.1 163.5Z" fill="#000"/><path d="M1532.5 207.7L1531.2 190.2" stroke="#000" stroke-width="2.2" fill="none"/><path d="M1530.5 180.1L1535 190.4L1527.5 191Z" fill="#000"/><path d="M1531.9 237.4L1531.9 224" stroke="#000" stroke-width="2.2" fill="none"/><path d="M1531.9 213.9L1535.6 224.5L1528.2 224.5Z" fill="#000"/><path d="M1531.9 259.9L1531.9 250.6" stroke="#000" stroke-width="2.2" fill="none"/><path d="M1531.9 240.5L1535.6 251.1L1528.2 251.1Z" fill="#000"/><path d="M1534.6 282.4L1534.6 273.1" stroke="#000" stroke-width="2.2" fill="none"/><path d="M1534.6 263L1538.3 273.6L1530.8 273.6Z" fill="#000"/><path d="M1544.8 173.9L1541.9 147.4" stroke="#000" stroke-width="2.6" fill="none"/><path d="M1540.7 136.1L1546.1 147.5L1537.8 148.4Z" fill="#000"/><path d="M1544.8 212.8L1544.8 181.3" stroke="#000" stroke-width="2.6" fill="none"/><path d="M1544.8 169.9L1548.9 181.8L1540.6 181.8Z" fill="#000"/><path d="M1547.4 249.7L1547.4 229.4" stroke="#000" stroke-width="2.6" fill="none"/><path d="M1547.4 217.9L1551.6 229.9L1543.3 229.9Z" fill="#000"/><path d="M1547.9 289.6L1548.1 263.1" stroke="#000" stroke-width="2.6" fill="none"/><path d="M1548.3 251.7L1552.3 263.7L1544 263.6Z" fill="#000"/><path d="M1557.1 184.2L1555.8 163.5" stroke="#000" stroke-width="2.8" fill="none"/><path d="M1555 151.4L1560.2 163.7L1551.4 164.2Z" fill="#000"/><path d="M1556 155.5L1554 133.1" stroke="#000" stroke-width="2.6" fill="none"/><path d="M1553 121.8L1558.2 133.3L1549.9 134Z" fill="#000"/><path d="M1559.1 219L1557.7 190.1" stroke="#000" stroke-width="2.8" fill="none"/><path d="M1557.1 178L1562.1 190.4L1553.3 190.8Z" fill="#000"/><path d="M1560.1 251.7L1559.4 218.1" stroke="#000" stroke-width="2.6" fill="none"/><path d="M1559.1 206.7L1563.5 218.5L1555.2 218.7Z" fill="#000"/><path d="M1561.2 282.4L1561.9 257" stroke="#000" stroke-width="2.6" fill="none"/><path d="M1562.2 245.6L1566 257.6L1557.7 257.4Z" fill="#000"/><path d="M1565.2 282.4L1566.5 277.3" stroke="#000" stroke-width="2" fill="none"/><path d="M1568.3 270.1L1569.1 278.4L1563.7 277.1Z" fill="#000"/><path d="M1573.4 243.5L1569.8 118.9" stroke="#000" stroke-width="3.1" fill="none"/><path d="M1569.3 104.4L1574.5 119.2L1565 119.5Z" fill="#000"/><path d="M1570 135.1L1569.8 128.3" stroke="#000" stroke-width="3.1" fill="none"/><path d="M1569.5 118.7L1573.6 128.8L1566 128.9Z" fill="#000"/><path d="M1570.6 151.4L1570.4 144.7" stroke="#000" stroke-width="3.1" fill="none"/><path d="M1570.2 135.1L1574.2 145.1L1566.6 145.3Z" fill="#000"/><path d="M1572.4 202.6L1571.2 169.5" stroke="#000" stroke-width="3.1" fill="none"/><path d="M1571.2 169.9L1571.2 170L1571.1 170Z" fill="#000"/><path d="M1496.7 272.5L1498 276.9" stroke="#000" stroke-width="3" fill="none"/><path d="M1499.8 282.7L1494.3 277.5L1501.4 275.3Z" fill="#000"/><path d="M1503.9 260.2L1508.6 274.6" stroke="#000" stroke-width="2.4" fill="none"/><path d="M1512 284.8L1504.7 275.3L1512.2 272.8Z" fill="#000"/><path d="M1515.1 260.2L1519.8 266.8" stroke="#000" stroke-width="2" fill="none"/><path d="M1525.3 274.6L1516.7 268.5L1522.4 264.4Z" fill="#000"/><path d="M1514.1 290.9L1519.1 299.9" stroke="#000" stroke-width="2.4" fill="none"/><path d="M1524.3 309.3L1515.4 301.4L1522.3 297.6Z" fill="#000"/><path d="M1500.8 288.9L1509.3 312.6" stroke="#000" stroke-width="3.4" fill="none"/><path d="M1514.1 325.7L1504.4 313.8L1513.9 310.4Z" fill="#000"/><path d="M1517.2 320.6L1522.7 332.7" stroke="#000" stroke-width="2.6" fill="none"/><path d="M1527.4 343.1L1518.7 334L1526.2 330.5Z" fill="#000"/><path d="M1516.1 342.1L1521.7 357.6" stroke="#000" stroke-width="3.4" fill="none"/><path d="M1526.4 370.7L1516.8 358.8L1526.2 355.4Z" fill="#000"/><path d="M1532.5 330.8L1536.3 335.1" stroke="#000" stroke-width="2" fill="none"/><path d="M1541.7 341.1L1533.8 336.7L1538.2 332.7Z" fill="#000"/><path d="M1528.4 352.3L1535.1 360" stroke="#000" stroke-width="2.2" fill="none"/><path d="M1541.7 367.7L1531.9 362.1L1537.6 357.2Z" fill="#000"/><path d="M1526.4 378.9L1531.5 381.1" stroke="#000" stroke-width="2.2" fill="none"/><path d="M1538.6 384L1529.9 383.6L1532.2 378.1Z" fill="#000"/><path d="M1534.6 282.7L1534.8 273.4" stroke="#000" stroke-width="2.2" fill="none"/><path d="M1535.2 263.3L1538.6 274.1L1531.1 273.8Z" fill="#000"/><path d="M1547.9 288.9L1548.1 263.8" stroke="#000" stroke-width="2.4" fill="none"/><path d="M1548.3 253.1L1552.1 264.4L1544.2 264.3Z" fill="#000"/><path d="M1561.2 281.7L1561.2 260.8" stroke="#000" stroke-width="2.4" fill="none"/><path d="M1561.2 250L1565.1 261.3L1557.2 261.3Z" fill="#000"/><path d="M1538.6 301.2L1541.6 292.4" stroke="#000" stroke-width="2.2" fill="none"/><path d="M1544.8 282.7L1545 294L1537.9 291.7Z" fill="#000"/><path d="M1547.9 316.5L1550.7 307.3" stroke="#000" stroke-width="2.4" fill="none"/><path d="M1554 297.1L1554.4 309L1546.8 306.6Z" fill="#000"/><path d="M1556 309.3L1564.9 282.7" stroke="#000" stroke-width="2.4" fill="none"/><path d="M1568.3 272.5L1568.5 284.5L1561 282Z" fill="#000"/><path d="M1564.2 325.7L1568.9 298.5" stroke="#000" stroke-width="2.4" fill="none"/><path d="M1570.8 287.9L1572.7 299.6L1565 298.3Z" fill="#000"/><path d="M1548.9 341.1L1554.4 329" stroke="#000" stroke-width="2.6" fill="none"/><path d="M1559.1 318.6L1558 331.1L1550.4 327.7Z" fill="#000"/><path d="M1570.4 340L1574.3 320.5" stroke="#000" stroke-width="2.6" fill="none"/><path d="M1576.5 309.3L1578.2 321.8L1570.1 320.2Z" fill="#000"/><path d="M1559.1 360.5L1566.3 343.4" stroke="#000" stroke-width="2.6" fill="none"/><path d="M1570.8 332.9L1570 345.5L1562.3 342.2Z" fill="#000"/><path d="M1545.8 372.4L1556.3 365.4" stroke="#000" stroke-width="2.4" fill="none"/><path d="M1565.2 359.5L1558 369L1553.7 362.4Z" fill="#000"/><path d="M1573.4 374.8L1575.4 368.9" stroke="#000" stroke-width="2" fill="none"/><path d="M1578.1 360.5L1578.3 370.4L1572.1 368.4Z" fill="#000"/><path d="M1557.1 380.6L1560.6 378.5" stroke="#000" stroke-width="2" fill="none"/><path d="M1565.2 375.9L1561.6 381.2L1558.8 376.3Z" fill="#000"/><path d="M1576.5 299.1L1577.5 249.6" stroke="#000" stroke-width="2.4" fill="none"/><path d="M1577.5 250L1577.6 250.1L1577.5 250.1Z" fill="#000"/><path d="M1585.7 285V115.3" stroke="#000" stroke-width="3"/><path d="M1585.7 107.5L1580.7 122.5L1590.7 122.5Z" fill="#000"/><path d="M1585.7 129L1581 142L1590.5 142Z" fill="#000"/><path d="M1585.7 155.5L1581 168.5L1590.5 168.5Z" fill="#000"/><path d="M1585.7 186L1581 199L1590.5 199Z" fill="#000"/><path d="M1585.7 215L1581 228L1590.5 228Z" fill="#000"/><path d="M1585.7 248L1581 261L1590.5 261Z" fill="#000"/><path d="M1585.7 325.7L1585.7 290.2" stroke="#000" stroke-width="2.4" fill="none"/><path d="M1585.7 281.7L1590.2 290.7L1581.2 290.7Z" fill="#000"/><path d="M1585.7 361L1585.7 334.2" stroke="#000" stroke-width="2.2" fill="none"/><path d="M1585.7 325.7L1590.2 334.7L1581.2 334.7Z" fill="#000"/><path d="M1585.7 386L1585.7 381.6" stroke="#000" stroke-width="2" fill="none"/><path d="M1585.7 375.8L1589.3 382.1L1582.1 382.1Z" fill="#000"/><path d="M1582.2 305.9C1582.2 302.9 1582.2 297 1581.8 287.9C1581.4 278.9 1581 264.6 1579.8 251.7C1578.6 238.9 1577.1 224.4 1574.5 210.8C1571.9 197.1 1568 182.1 1564.2 169.9C1560.5 157.6 1556.7 146.7 1551.9 137.1C1547.2 127.6 1540.9 117.7 1535.6 112.6C1530.3 107.4 1525.3 105.1 1520.2 106.4C1515.1 107.8 1508.8 113.6 1504.9 120.7C1501 127.9 1498.4 137.8 1496.7 149.4C1495 161 1495 176.7 1494.6 190.3C1494.3 204 1494.6 221 1494.6 231.2C1494.7 241.5 1494.8 248.3 1494.9 251.7" fill="none" stroke="#ff0000" stroke-width="4.6" stroke-linecap="butt"/><path d="M1494.9 247.6L1494.8 257.4" stroke="#ff0000" stroke-width="4.6" fill="none"/><path d="M1494.6 272.2L1488.1 256.9L1501.5 257Z" fill="#ff0000"/><circle cx="1676" cy="119" r="11.8" fill="#fff" stroke="#000" stroke-width="2.8"/><path d="M1664.2 119H1687.8" stroke="#000" stroke-width="4.2"/><path d="M1676 107.2V130.8" stroke="#000" stroke-width="4.2"/><circle cx="1623" cy="398" r="11.8" fill="#fff" stroke="#000" stroke-width="2.8"/><path d="M1611.2 398H1634.8" stroke="#000" stroke-width="4.2"/><path d="M140.5 93.7H251" stroke="#93a5b3" stroke-width="2.2"/><path d="M382.5 93.7H494.5" stroke="#93a5b3" stroke-width="2.2"/><path d="M623 93.7H659.5" stroke="#93a5b3" stroke-width="2.2"/><path d="M864.5 93.7H976.5" stroke="#93a5b3" stroke-width="2.2"/><path d="M1105 93.7H1217" stroke="#93a5b3" stroke-width="2.2"/><path d="M1346 93.7H1458" stroke="#93a5b3" stroke-width="2.2"/><path d="M1586.5 93.7H1698.5" stroke="#93a5b3" stroke-width="2.2"/><rect x="2.7" y="3" width="249.9" height="510.6" fill="none" stroke="#0000ff" stroke-width="4.7"/><rect x="256.5" y="3.8" width="247.6" height="510.3" fill="none" stroke="#ff0000" stroke-width="4.5"/><rect x="511.9" y="3.9" width="717.6" height="510.6" fill="none" stroke="#00ac50" stroke-width="4.6"/><rect x="1232.3" y="4.2" width="479.8" height="512" fill="none" stroke="#0000ff" stroke-width="4.8"/>
<clipPath id="t1clip"><rect x="0" y="0" width="250.6" height="60"/></clipPath><g class="b" lengthAdjust="spacingAndGlyphs"><text x="8.8" y="36.5" font-size="36" fill="#1f3fd2" textLength="243.5" lengthAdjust="spacingAndGlyphs" clip-path="url(#t1clip)">Ekman pumping</text><text x="258.3" y="40.9" font-size="38.4" fill="#ff0a0a" textLength="242" lengthAdjust="spacingAndGlyphs">Magnetic force</text><text x="733.4" y="40.9" font-size="37.6" fill="#10a652" textLength="259" lengthAdjust="spacingAndGlyphs">Transition stage</text><text x="1364.6" y="36.2" font-size="36" fill="#1f3fd2" textLength="271.8" lengthAdjust="spacingAndGlyphs">Ekman pumping</text></g><g class="b" font-size="38" fill="#000"><text x="141.7" y="79.8" class="i" textLength="11.8" lengthAdjust="spacingAndGlyphs">t</text><text x="332.5" y="80" textLength="112.5" lengthAdjust="spacingAndGlyphs"><tspan class="i">t</tspan> + 10 s</text><text x="570.4" y="80" textLength="112.5" lengthAdjust="spacingAndGlyphs"><tspan class="i">t</tspan> + 20 s</text><text x="818.3" y="80" textLength="112.5" lengthAdjust="spacingAndGlyphs"><tspan class="i">t</tspan> + 30 s</text><text x="1056.3" y="80" textLength="112.5" lengthAdjust="spacingAndGlyphs"><tspan class="i">t</tspan> + 40 s</text><text x="1293.9" y="80" textLength="112.5" lengthAdjust="spacingAndGlyphs"><tspan class="i">t</tspan> + 50 s</text><text x="1540.6" y="80" textLength="112.5" lengthAdjust="spacingAndGlyphs"><tspan class="i">t</tspan> + 60 s</text></g>
<g class="b" font-size="31.5" fill="#000"><path d="M35.9 456.9L76.7 456.9" stroke="#000" stroke-width="3.3" fill="none"/><path d="M96.7 456.9L76.2 463.1L76.2 450.7Z" fill="#000"/><text x="41.2" y="484.9" xml:space="preserve" style="white-space:pre" textLength="109.6" lengthAdjust="spacingAndGlyphs">0.08  m/s</text><path d="M281.9 456.4L322.7 456.4" stroke="#000" stroke-width="3.3" fill="none"/><path d="M342.7 456.4L322.2 462.6L322.2 450.2Z" fill="#000"/><text x="284.1" y="486.2" xml:space="preserve" style="white-space:pre" textLength="109.6" lengthAdjust="spacingAndGlyphs">0.11  m/s</text><path d="M520.4 455.5L561.2 455.5" stroke="#000" stroke-width="3.3" fill="none"/><path d="M581.2 455.5L560.7 461.7L560.7 449.3Z" fill="#000"/><text x="526.3" y="486.7" xml:space="preserve" style="white-space:pre" textLength="109.6" lengthAdjust="spacingAndGlyphs">0.31  m/s</text><path d="M761.5 455L802.3 455" stroke="#000" stroke-width="3.3" fill="none"/><path d="M822.3 455L801.8 461.2L801.8 448.8Z" fill="#000"/><text x="767" y="485.7" xml:space="preserve" style="white-space:pre" textLength="109.6" lengthAdjust="spacingAndGlyphs">0.09  m/s</text><path d="M1002 455L1042.8 455" stroke="#000" stroke-width="3.3" fill="none"/><path d="M1062.8 455L1042.3 461.2L1042.3 448.8Z" fill="#000"/><text x="1007.2" y="485.7" xml:space="preserve" style="white-space:pre" textLength="109.6" lengthAdjust="spacingAndGlyphs">0.07  m/s</text><path d="M1243.3 457.1L1284.1 457.1" stroke="#000" stroke-width="3.3" fill="none"/><path d="M1304.1 457.1L1283.6 463.3L1283.6 450.9Z" fill="#000"/><text x="1248.8" y="485.7" xml:space="preserve" style="white-space:pre" textLength="109.6" lengthAdjust="spacingAndGlyphs">0.08  m/s</text><path d="M1484.3 456.5L1525.1 456.5" stroke="#000" stroke-width="3.3" fill="none"/><path d="M1545.1 456.5L1524.6 462.7L1524.6 450.3Z" fill="#000"/><text x="1485.9" y="483.2" xml:space="preserve" style="white-space:pre" textLength="109.6" lengthAdjust="spacingAndGlyphs">0.08  m/s</text></g>
<rect x="669.4" y="522.7" width="385.7" height="24.9" fill="url(#cbar)" stroke="#9aa8b6" stroke-width="2.8"/><path d="M669.7 548V556.5" stroke="#9aa8b6" stroke-width="2.8"/><path d="M772.2 548V556.5" stroke="#9aa8b6" stroke-width="2.8"/><path d="M862.6 548V556.5" stroke="#9aa8b6" stroke-width="2.8"/><path d="M964.8 548V556.5" stroke="#9aa8b6" stroke-width="2.8"/><path d="M1054.8 548V556.5" stroke="#9aa8b6" stroke-width="2.8"/><circle cx="658.4" cy="536.5" r="12" fill="#fff" stroke="#000" stroke-width="2.6"/><path d="M646.4 536.5H670.4" stroke="#000" stroke-width="4.2"/><circle cx="1067.6" cy="536.5" r="12" fill="#fff" stroke="#000" stroke-width="2.6"/><path d="M1055.6 536.5H1079.6" stroke="#000" stroke-width="4.2"/><path d="M1067.6 524.5V548.5" stroke="#000" stroke-width="4.2"/><g class="b" font-size="27.5" fill="#000" text-anchor="middle"><text x="675.5" y="582.8">-0.4</text><text x="766.5" y="582.8">-0.2</text><text x="863.2" y="582.8">0</text><text x="963.5" y="582.8">0.2</text><text x="1052.2" y="582.8">0.4</text></g><text class="b i" font-size="32" x="808.6" y="611.6" fill="#000">v</text><text class="b i" font-size="19" x="823" y="620" fill="#000">φ,</text><text class="b" font-size="32" x="852.6" y="611.6" fill="#000" textLength="69" lengthAdjust="spacingAndGlyphs">[m/s]</text>
<g fill="#f5070f"><rect x="147" y="722.8" width="12.5" height="28.6"/><rect x="262.7" y="722.9" width="26.2" height="28.4"/><rect x="390.1" y="721.1" width="26.2" height="28.4"/><rect x="519.5" y="717.9" width="26.2" height="28.4"/><rect x="644.9" y="716.6" width="26.2" height="28.4"/><rect x="770.2" y="721.1" width="26.2" height="28.4"/><rect x="900.1" y="721.1" width="26.2" height="28.4"/><rect x="903.8" y="865.4" width="26.2" height="28.4"/></g><rect x="146" y="642.6" width="1532.8" height="295.2" fill="none" stroke="#000" stroke-width="3"/><path d="M146 818.3H1679" stroke="#000" stroke-width="4.7"/><path d="M147.5 816V792" stroke="#000" stroke-width="3.7"/><path d="M273.2 816V804.5" stroke="#000" stroke-width="3.7"/><path d="M400.9 816V792" stroke="#000" stroke-width="3.7"/><path d="M528.6 816V804.5" stroke="#000" stroke-width="3.7"/><path d="M656.3 816V792" stroke="#000" stroke-width="3.7"/><path d="M784 816V804.5" stroke="#000" stroke-width="3.7"/><path d="M911.7 816V792" stroke="#000" stroke-width="3.7"/><path d="M1039.4 816V804.5" stroke="#000" stroke-width="3.7"/><path d="M1167.1 816V792" stroke="#000" stroke-width="3.7"/><path d="M1294.8 816V804.5" stroke="#000" stroke-width="3.7"/><path d="M1422.5 816V792" stroke="#000" stroke-width="3.7"/><path d="M1550.2 816V804.5" stroke="#000" stroke-width="3.7"/><path d="M1677.6 816V792" stroke="#000" stroke-width="3.7"/><path d="M146 736.4H917V881.7H1679" stroke="#000" stroke-width="6.6" fill="none" stroke-linejoin="miter"/><g font-size="50" fill="#000" text-anchor="end" lengthAdjust="spacingAndGlyphs"><text x="134.4" y="751.3" textLength="45.5" lengthAdjust="spacingAndGlyphs">50</text><text x="134.4" y="828" textLength="22.8" lengthAdjust="spacingAndGlyphs">0</text><text x="134.4" y="888.5" textLength="60.6" lengthAdjust="spacingAndGlyphs">-50</text></g><g font-size="50" fill="#000" text-anchor="middle"><text x="393.5" y="856.8" textLength="45.5" lengthAdjust="spacingAndGlyphs">20</text><text x="647" y="856.8" textLength="45.5" lengthAdjust="spacingAndGlyphs">40</text><text x="908.5" y="856.8" textLength="45.5" lengthAdjust="spacingAndGlyphs">60</text><text x="1161" y="856.8" textLength="45.5" lengthAdjust="spacingAndGlyphs">80</text><text x="1409" y="856.8" textLength="68.2" lengthAdjust="spacingAndGlyphs">100</text><text x="1656" y="856.8" textLength="68.2" lengthAdjust="spacingAndGlyphs">120</text></g><g font-size="42" fill="#000"><text x="152" y="705" class="i">t</text><text x="225.5" y="712.8" textLength="78" lengthAdjust="spacingAndGlyphs"><tspan class="i">t</tspan>+10</text><text x="362" y="711.8" textLength="78" lengthAdjust="spacingAndGlyphs"><tspan class="i">t</tspan>+20</text><text x="485.5" y="706.3" textLength="78" lengthAdjust="spacingAndGlyphs"><tspan class="i">t</tspan>+30</text><text x="610.8" y="704.3" textLength="78" lengthAdjust="spacingAndGlyphs"><tspan class="i">t</tspan>+40</text><text x="736.2" y="702.8" textLength="78" lengthAdjust="spacingAndGlyphs"><tspan class="i">t</tspan>+50</text><text x="862.5" y="700.3" textLength="78" lengthAdjust="spacingAndGlyphs"><tspan class="i">t</tspan>+60</text><text x="907.5" y="923.5" class="i" font-size="55">t</text></g><text class="b" font-size="37.2" fill="#000" transform="translate(65.2 794) rotate(-90)" text-anchor="middle">Magnetic intensity (G)</text><text class="b" font-size="35" fill="#000" x="830" y="973.6">Time/s</text></svg></body></html>
